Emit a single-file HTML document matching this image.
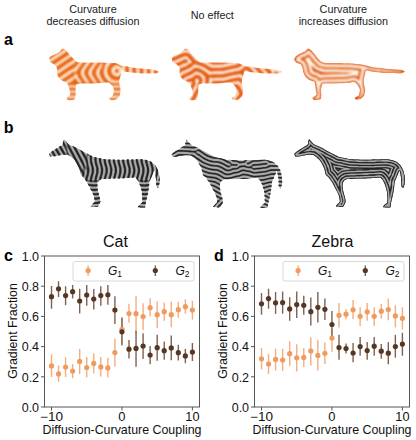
<!DOCTYPE html>
<html><head><meta charset="utf-8">
<style>
html,body{margin:0;padding:0;background:#fff;}
body{width:416px;height:440px;overflow:hidden;position:relative;font-family:"Liberation Sans",sans-serif;}
svg{position:absolute;left:0;top:0;}
.tk{font-size:12px;fill:#111;}
.lb{font-size:12.4px;fill:#111;}
.lg{font-size:12px;fill:#111;}
.ti{font-size:16px;fill:#111;}
.pl{font-size:16px;font-weight:bold;fill:#000;}
.hd{font-size:10.8px;fill:#1a1a1a;}
</style></head>
<body>
<svg width="416" height="440" viewBox="0 0 416 440">
<defs>
<filter id="blO" x="-5%" y="-5%" width="110%" height="110%"><feGaussianBlur stdDeviation="1.0"/></filter>
<filter id="blE" x="-5%" y="-5%" width="110%" height="110%"><feGaussianBlur stdDeviation="0.8"/></filter>
<clipPath id="c_cat1"><path d="M49.2,58.3C49.2,58.0 50.1,56.7 50.5,56.5C50.9,56.3 54.6,54.4 55.1,54.2C55.6,54.0 58.3,52.6 58.7,52.4C59.1,52.2 60.8,50.3 61.0,50.1C61.2,49.9 62.5,48.5 62.8,48.5C63.1,48.5 65.2,49.4 65.5,49.6C65.8,49.8 67.5,52.0 67.8,52.4C68.1,52.8 70.6,55.6 71.0,56.0C71.4,56.4 73.8,59.2 74.2,59.6C74.6,60.0 76.5,62.0 78.0,62.2C79.5,62.4 97.8,62.5 100.0,62.5C102.2,62.5 113.9,62.9 115.0,63.0C116.1,63.1 118.1,64.1 118.5,64.3C118.9,64.5 121.0,65.7 121.5,65.8C122.0,65.9 125.1,66.2 126.0,66.3C126.9,66.4 134.6,67.9 136.2,68.1C137.8,68.3 151.1,69.3 152.5,69.5C153.9,69.7 159.3,71.5 159.5,71.7C159.7,71.9 156.8,73.4 155.7,73.5C154.6,73.6 143.4,73.6 141.6,73.5C139.8,73.4 127.7,72.0 126.5,71.9C125.3,71.8 122.3,71.3 122.0,71.5C121.7,71.7 121.2,74.5 121.0,75.0C120.8,75.5 119.6,79.0 119.5,79.5C119.4,80.0 119.4,83.5 119.5,84.0C119.6,84.5 120.4,87.5 120.5,88.0C120.6,88.5 120.6,91.5 120.5,92.0C120.4,92.5 119.8,96.0 119.5,96.5C119.2,97.0 116.5,99.3 116.0,99.5C115.5,99.7 111.4,100.3 111.0,100.2C110.6,100.1 108.9,98.6 109.0,98.3C109.1,98.0 112.2,96.4 112.5,96.0C112.8,95.6 114.0,91.5 114.0,91.0C114.0,90.5 113.3,87.5 113.0,87.0C112.7,86.5 110.0,83.3 109.5,83.0C109.0,82.7 105.9,82.5 105.0,82.5C104.1,82.5 95.5,83.4 94.0,83.5C92.5,83.6 81.1,83.4 80.0,83.5C78.9,83.6 76.4,84.4 76.1,84.8C75.8,85.2 75.8,89.3 75.8,90.0C75.8,90.7 75.7,95.4 75.6,96.0C75.5,96.6 74.6,99.5 74.2,99.8C73.8,100.1 68.9,100.4 68.4,100.3C67.9,100.2 66.2,98.3 66.3,98.0C66.4,97.7 70.0,95.5 70.2,95.0C70.4,94.5 69.6,90.0 69.4,89.2C69.2,88.5 67.4,83.0 67.0,82.5C66.6,82.0 63.9,81.4 63.5,81.2C63.1,81.0 60.8,79.8 60.5,79.5C60.2,79.2 58.5,77.3 58.3,76.9C58.1,76.5 57.0,73.7 56.9,73.3C56.8,72.9 57.3,70.0 57.2,69.6C57.1,69.2 56.3,66.4 56.0,66.0C55.7,65.6 52.8,63.5 52.4,63.3C52.0,63.1 50.3,62.2 50.1,61.9C49.9,61.6 49.2,58.6 49.2,58.3Z"/></clipPath>
<clipPath id="c_cat2"><path d="M171.7,58.3C171.7,58.0 172.6,56.7 173.0,56.5C173.4,56.3 177.1,54.4 177.6,54.2C178.1,54.0 180.8,52.6 181.2,52.4C181.6,52.2 183.3,50.3 183.5,50.1C183.7,49.9 185.0,48.5 185.3,48.5C185.6,48.5 187.7,49.4 188.0,49.6C188.3,49.8 190.0,52.0 190.3,52.4C190.6,52.8 193.1,55.6 193.5,56.0C193.9,56.4 196.3,59.2 196.7,59.6C197.1,60.0 199.0,62.0 200.5,62.2C202.0,62.4 220.3,62.5 222.5,62.5C224.7,62.5 236.4,62.9 237.5,63.0C238.6,63.1 240.6,64.1 241.0,64.3C241.4,64.5 243.6,65.7 244.0,65.8C244.4,65.9 247.6,66.2 248.5,66.3C249.4,66.4 257.1,67.9 258.7,68.1C260.3,68.3 273.6,69.3 275.0,69.5C276.4,69.7 281.8,71.5 282.0,71.7C282.2,71.9 279.3,73.4 278.2,73.5C277.1,73.6 265.9,73.6 264.1,73.5C262.3,73.4 250.2,72.0 249.0,71.9C247.8,71.8 244.8,71.3 244.5,71.5C244.2,71.7 243.7,74.5 243.5,75.0C243.3,75.5 242.1,79.0 242.0,79.5C241.9,80.0 241.9,83.5 242.0,84.0C242.1,84.5 242.9,87.5 243.0,88.0C243.1,88.5 243.1,91.5 243.0,92.0C242.9,92.5 242.3,96.0 242.0,96.5C241.7,97.0 239.0,99.3 238.5,99.5C238.0,99.7 233.9,100.3 233.5,100.2C233.1,100.1 231.4,98.6 231.5,98.3C231.6,98.0 234.7,96.4 235.0,96.0C235.3,95.6 236.5,91.5 236.5,91.0C236.5,90.5 235.8,87.5 235.5,87.0C235.2,86.5 232.5,83.3 232.0,83.0C231.5,82.7 228.4,82.5 227.5,82.5C226.6,82.5 218.0,83.4 216.5,83.5C215.0,83.6 203.6,83.4 202.5,83.5C201.4,83.6 198.9,84.4 198.6,84.8C198.3,85.2 198.3,89.3 198.3,90.0C198.3,90.7 198.2,95.4 198.1,96.0C198.0,96.6 197.1,99.5 196.7,99.8C196.3,100.1 191.4,100.4 190.9,100.3C190.4,100.2 188.7,98.3 188.8,98.0C188.9,97.7 192.5,95.5 192.7,95.0C192.9,94.5 192.1,90.0 191.9,89.2C191.7,88.5 189.9,83.0 189.5,82.5C189.1,82.0 186.4,81.4 186.0,81.2C185.6,81.0 183.3,79.8 183.0,79.5C182.7,79.2 181.0,77.3 180.8,76.9C180.6,76.5 179.5,73.7 179.4,73.3C179.3,72.9 179.8,70.0 179.7,69.6C179.6,69.2 178.8,66.4 178.5,66.0C178.2,65.6 175.3,63.5 174.9,63.3C174.5,63.1 172.8,62.2 172.6,61.9C172.4,61.6 171.7,58.6 171.7,58.3Z"/></clipPath>
<clipPath id="c_cat3"><path d="M294.1,59.5C294.0,59.1 295.1,57.2 295.5,56.8C295.9,56.4 299.5,53.9 300.0,53.6C300.5,53.3 304.1,52.0 304.5,51.8C304.9,51.6 306.6,49.7 306.8,49.5C307.0,49.3 308.3,48.5 308.6,48.6C308.9,48.7 311.4,50.6 311.8,50.9C312.2,51.2 314.2,53.7 314.5,54.1C314.8,54.5 316.9,57.3 317.3,57.7C317.7,58.1 320.4,61.1 320.9,61.4C321.4,61.7 324.3,62.9 326.0,63.0C327.7,63.1 347.0,63.1 349.0,63.2C351.0,63.3 359.1,64.1 359.9,64.2C360.7,64.3 362.1,64.4 362.8,64.6C363.5,64.8 370.4,66.7 372.0,67.0C373.6,67.3 388.2,68.9 390.0,69.1C391.8,69.3 401.1,69.8 402.0,70.0C402.9,70.2 405.1,71.6 405.0,71.8C404.9,72.0 402.2,73.3 400.9,73.4C399.6,73.5 385.7,73.1 384.0,73.0C382.3,72.9 373.1,71.9 372.0,71.8C370.9,71.7 366.4,70.5 366.0,70.6C365.6,70.7 365.4,72.3 365.3,72.8C365.2,73.3 364.1,78.2 364.0,78.8C363.9,79.4 363.7,82.9 363.8,83.6C363.9,84.3 365.3,89.0 365.3,89.7C365.3,90.4 364.3,95.2 364.0,95.7C363.7,96.2 361.5,98.5 361.0,98.7C360.5,98.9 356.6,99.9 356.2,99.8C355.9,99.7 354.3,98.1 354.4,97.8C354.5,97.5 358.4,96.0 358.7,95.5C359.0,95.0 360.0,90.3 359.9,89.7C359.8,89.1 357.9,85.3 357.5,84.8C357.1,84.3 354.3,81.9 353.8,81.8C353.3,81.7 350.4,82.9 349.0,83.0C347.6,83.1 331.6,83.5 330.0,83.6C328.4,83.7 323.0,83.6 322.5,84.0C322.0,84.4 321.1,89.3 321.0,90.0C320.9,90.7 321.4,94.4 321.4,95.0C321.4,95.6 321.1,99.0 320.7,99.3C320.3,99.6 314.5,100.3 314.0,100.2C313.5,100.1 312.2,98.3 312.4,98.0C312.6,97.7 316.4,95.0 316.6,94.5C316.8,94.0 316.0,91.1 315.9,90.4C315.8,89.7 314.7,82.7 314.6,82.2C314.5,81.7 313.9,81.5 313.6,81.4C313.3,81.3 309.6,80.3 309.1,80.0C308.6,79.7 305.9,77.3 305.5,76.8C305.1,76.3 303.4,72.8 303.2,72.3C303.0,71.8 302.8,69.1 302.7,68.6C302.6,68.1 301.3,64.9 300.9,64.5C300.5,64.1 296.8,63.0 296.4,62.7C296.0,62.4 294.2,59.9 294.1,59.5Z"/></clipPath>
<clipPath id="c_zeb1"><path d="M49.2,154.0C49.3,153.7 51.1,152.0 51.8,151.5C52.5,151.0 59.8,146.5 60.4,146.1C61.0,145.7 62.4,144.8 62.6,144.5C62.8,144.2 63.2,140.8 63.3,140.5C63.4,140.2 63.7,139.1 63.9,139.2C64.1,139.3 65.8,141.3 66.0,141.5C66.2,141.7 67.4,143.0 67.6,143.2C67.8,143.4 68.6,144.2 69.1,144.5C69.6,144.8 75.3,147.3 76.4,147.8C77.5,148.3 85.9,153.1 86.9,153.6C87.9,154.1 92.1,156.4 93.2,156.7C94.3,157.0 104.4,159.1 106.0,159.3C107.6,159.5 117.9,159.8 120.0,159.8C122.1,159.8 139.6,159.3 141.2,159.3C142.8,159.3 146.6,160.0 147.2,160.2C147.8,160.4 151.1,161.6 151.6,161.9C152.1,162.2 154.6,164.5 155.0,164.9C155.4,165.3 157.3,168.6 157.6,169.2C157.9,169.8 159.2,174.5 159.3,175.3C159.4,176.1 159.8,181.4 159.7,182.2C159.6,182.9 158.6,187.5 158.4,187.8C158.2,188.1 156.5,187.1 156.3,186.5C156.2,185.9 156.0,178.7 155.9,177.9C155.8,177.1 155.1,173.1 155.0,172.7C154.9,172.3 154.3,170.2 154.1,170.5C153.9,170.8 151.9,176.4 151.6,177.0C151.3,177.6 149.8,180.7 149.6,181.3C149.4,181.9 149.1,186.2 149.0,186.8C148.9,187.4 148.5,190.2 148.4,190.9C148.3,191.6 146.9,198.3 146.7,199.1C146.5,199.9 145.7,203.4 145.6,203.9C145.5,204.4 145.4,207.2 145.0,207.4C144.6,207.6 138.5,207.3 138.1,207.2C137.7,207.1 138.6,205.5 138.8,205.2C139.0,204.9 142.0,203.0 142.2,202.5C142.4,202.0 142.2,197.7 142.2,197.0C142.2,196.3 141.7,191.0 141.5,190.2C141.3,189.4 139.7,184.7 139.5,184.1C139.3,183.5 137.8,180.4 137.5,180.0C137.2,179.6 135.6,177.6 135.2,177.5C134.8,177.4 131.2,177.8 130.0,177.9C128.8,178.0 116.7,178.4 115.0,178.5C113.3,178.6 103.0,179.0 102.0,179.1C101.0,179.2 99.3,180.3 99.0,180.6C98.7,180.9 97.5,183.1 97.4,183.7C97.3,184.3 97.7,189.2 97.8,189.9C97.9,190.6 99.2,195.3 99.4,196.0C99.6,196.7 100.6,200.8 100.5,201.5C100.4,202.2 98.4,206.6 97.8,206.9C97.2,207.2 91.3,206.6 90.9,206.5C90.5,206.4 91.1,205.6 91.3,205.3C91.5,205.0 94.6,202.1 94.7,201.5C94.8,200.9 93.9,196.0 93.6,195.3C93.3,194.6 90.9,189.8 90.5,189.1C90.1,188.4 87.8,183.7 87.4,183.0C87.0,182.3 83.9,178.0 83.5,177.5C83.1,177.0 80.9,175.1 80.6,174.5C80.3,173.9 79.3,168.9 79.0,168.2C78.7,167.5 76.7,163.5 76.4,163.0C76.1,162.5 75.1,160.9 74.8,160.5C74.5,160.1 71.6,157.2 71.2,156.9C70.8,156.6 68.1,154.8 67.6,154.7C67.1,154.6 63.4,154.6 62.6,154.7C61.8,154.8 55.4,156.2 54.7,156.3C54.0,156.4 50.6,156.6 50.3,156.5C50.0,156.4 49.1,154.3 49.2,154.0Z"/></clipPath>
<clipPath id="c_zeb2"><path d="M171.7,154.5C171.8,154.2 173.6,152.5 174.3,152.0C175.0,151.5 182.3,147.0 182.9,146.6C183.5,146.2 184.9,145.3 185.1,145.0C185.3,144.7 185.7,141.3 185.8,141.0C185.9,140.7 186.2,139.6 186.4,139.7C186.6,139.8 188.3,141.8 188.5,142.0C188.7,142.2 189.9,143.5 190.1,143.7C190.3,143.9 191.1,144.7 191.6,145.0C192.1,145.3 197.8,147.8 198.9,148.3C200.0,148.8 208.4,153.6 209.4,154.1C210.4,154.6 214.6,156.9 215.7,157.2C216.8,157.5 226.9,159.6 228.5,159.8C230.1,160.0 240.4,160.3 242.5,160.3C244.6,160.3 262.1,159.8 263.7,159.8C265.3,159.8 269.1,160.5 269.7,160.7C270.3,160.9 273.6,162.1 274.1,162.4C274.6,162.7 277.1,165.0 277.5,165.4C277.9,165.8 279.8,169.1 280.1,169.7C280.4,170.3 281.7,175.0 281.8,175.8C281.9,176.6 282.3,181.9 282.2,182.7C282.1,183.4 281.1,188.0 280.9,188.3C280.7,188.6 278.9,187.6 278.8,187.0C278.7,186.4 278.5,179.2 278.4,178.4C278.3,177.6 277.6,173.6 277.5,173.2C277.4,172.8 276.8,170.7 276.6,171.0C276.4,171.3 274.4,176.9 274.1,177.5C273.8,178.1 272.3,181.2 272.1,181.8C271.9,182.4 271.6,186.7 271.5,187.3C271.4,187.9 271.0,190.7 270.9,191.4C270.8,192.1 269.4,198.8 269.2,199.6C269.0,200.4 268.2,203.9 268.1,204.4C268.0,204.9 267.9,207.7 267.5,207.9C267.1,208.1 261.0,207.8 260.6,207.7C260.2,207.6 261.1,206.0 261.3,205.7C261.5,205.4 264.5,203.5 264.7,203.0C264.9,202.5 264.7,198.2 264.7,197.5C264.7,196.8 264.2,191.5 264.0,190.7C263.8,189.9 262.2,185.2 262.0,184.6C261.8,184.0 260.3,180.9 260.0,180.5C259.7,180.1 258.1,178.1 257.7,178.0C257.2,177.9 253.7,178.3 252.5,178.4C251.3,178.5 239.2,178.9 237.5,179.0C235.8,179.1 225.5,179.5 224.5,179.6C223.5,179.7 221.8,180.8 221.5,181.1C221.2,181.4 220.0,183.6 219.9,184.2C219.8,184.8 220.2,189.7 220.3,190.4C220.4,191.1 221.7,195.8 221.9,196.5C222.1,197.2 223.1,201.3 223.0,202.0C222.9,202.7 220.9,207.1 220.3,207.4C219.7,207.7 213.8,207.1 213.4,207.0C213.0,206.9 213.6,206.1 213.8,205.8C214.0,205.5 217.1,202.6 217.2,202.0C217.3,201.4 216.4,196.5 216.1,195.8C215.8,195.1 213.4,190.3 213.0,189.6C212.6,188.9 210.3,184.2 209.9,183.5C209.5,182.8 206.4,178.5 206.0,178.0C205.6,177.5 203.4,175.6 203.1,175.0C202.8,174.4 201.8,169.4 201.5,168.7C201.2,168.0 199.2,164.0 198.9,163.5C198.6,163.0 197.6,161.4 197.3,161.0C197.0,160.6 194.1,157.7 193.7,157.4C193.3,157.1 190.6,155.3 190.1,155.2C189.6,155.1 185.9,155.1 185.1,155.2C184.3,155.3 177.9,156.7 177.2,156.8C176.5,156.9 173.1,157.1 172.8,157.0C172.5,156.9 171.6,154.8 171.7,154.5Z"/></clipPath>
<clipPath id="c_zeb3"><path d="M294.4,154.0C294.5,153.7 296.3,152.0 297.0,151.5C297.7,151.0 305.0,146.5 305.6,146.1C306.2,145.7 307.6,144.8 307.8,144.5C308.0,144.2 308.4,140.8 308.5,140.5C308.6,140.2 308.9,139.1 309.1,139.2C309.3,139.3 311.0,141.3 311.2,141.5C311.4,141.7 312.6,143.0 312.8,143.2C313.0,143.4 313.8,144.2 314.3,144.5C314.8,144.8 320.5,147.3 321.6,147.8C322.7,148.3 331.1,153.1 332.1,153.6C333.1,154.1 337.3,156.4 338.4,156.7C339.5,157.0 349.6,159.1 351.2,159.3C352.8,159.5 363.1,159.8 365.2,159.8C367.3,159.8 384.8,159.3 386.4,159.3C388.0,159.3 391.8,160.0 392.4,160.2C393.0,160.4 396.3,161.6 396.8,161.9C397.3,162.2 399.8,164.5 400.2,164.9C400.6,165.3 402.5,168.6 402.8,169.2C403.1,169.8 404.4,174.5 404.5,175.3C404.6,176.1 405.0,181.4 404.9,182.2C404.8,182.9 403.8,187.5 403.6,187.8C403.4,188.1 401.6,187.1 401.5,186.5C401.4,185.9 401.2,178.7 401.1,177.9C401.0,177.1 400.3,173.1 400.2,172.7C400.1,172.3 399.5,170.2 399.3,170.5C399.1,170.8 397.1,176.4 396.8,177.0C396.5,177.6 395.0,180.7 394.8,181.3C394.6,181.9 394.3,186.2 394.2,186.8C394.1,187.4 393.7,190.2 393.6,190.9C393.5,191.6 392.1,198.3 391.9,199.1C391.7,199.9 390.9,203.4 390.8,203.9C390.7,204.4 390.6,207.2 390.2,207.4C389.8,207.6 383.7,207.3 383.3,207.2C382.9,207.1 383.8,205.5 384.0,205.2C384.2,204.9 387.2,203.0 387.4,202.5C387.6,202.0 387.4,197.7 387.4,197.0C387.4,196.3 386.9,191.0 386.7,190.2C386.5,189.4 384.9,184.7 384.7,184.1C384.5,183.5 383.0,180.4 382.7,180.0C382.4,179.6 380.8,177.6 380.4,177.5C379.9,177.4 376.4,177.8 375.2,177.9C374.0,178.0 361.9,178.4 360.2,178.5C358.5,178.6 348.2,179.0 347.2,179.1C346.2,179.2 344.5,180.3 344.2,180.6C343.9,180.9 342.7,183.1 342.6,183.7C342.5,184.3 342.9,189.2 343.0,189.9C343.1,190.6 344.4,195.3 344.6,196.0C344.8,196.7 345.8,200.8 345.7,201.5C345.6,202.2 343.6,206.6 343.0,206.9C342.4,207.2 336.5,206.6 336.1,206.5C335.7,206.4 336.3,205.6 336.5,205.3C336.7,205.0 339.8,202.1 339.9,201.5C340.0,200.9 339.1,196.0 338.8,195.3C338.5,194.6 336.1,189.8 335.7,189.1C335.3,188.4 333.0,183.7 332.6,183.0C332.2,182.3 329.1,178.0 328.7,177.5C328.3,177.0 326.1,175.1 325.8,174.5C325.5,173.9 324.5,168.9 324.2,168.2C323.9,167.5 321.9,163.5 321.6,163.0C321.3,162.5 320.3,160.9 320.0,160.5C319.7,160.1 316.8,157.2 316.4,156.9C316.0,156.6 313.3,154.8 312.8,154.7C312.3,154.6 308.6,154.6 307.8,154.7C307.0,154.8 300.6,156.2 299.9,156.3C299.2,156.4 295.8,156.6 295.5,156.5C295.2,156.4 294.3,154.3 294.4,154.0Z"/></clipPath>
</defs>
<g clip-path="url(#c_cat1)"><path d="M49.2,58.3C49.2,58.0 50.1,56.7 50.5,56.5C50.9,56.3 54.6,54.4 55.1,54.2C55.6,54.0 58.3,52.6 58.7,52.4C59.1,52.2 60.8,50.3 61.0,50.1C61.2,49.9 62.5,48.5 62.8,48.5C63.1,48.5 65.2,49.4 65.5,49.6C65.8,49.8 67.5,52.0 67.8,52.4C68.1,52.8 70.6,55.6 71.0,56.0C71.4,56.4 73.8,59.2 74.2,59.6C74.6,60.0 76.5,62.0 78.0,62.2C79.5,62.4 97.8,62.5 100.0,62.5C102.2,62.5 113.9,62.9 115.0,63.0C116.1,63.1 118.1,64.1 118.5,64.3C118.9,64.5 121.0,65.7 121.5,65.8C122.0,65.9 125.1,66.2 126.0,66.3C126.9,66.4 134.6,67.9 136.2,68.1C137.8,68.3 151.1,69.3 152.5,69.5C153.9,69.7 159.3,71.5 159.5,71.7C159.7,71.9 156.8,73.4 155.7,73.5C154.6,73.6 143.4,73.6 141.6,73.5C139.8,73.4 127.7,72.0 126.5,71.9C125.3,71.8 122.3,71.3 122.0,71.5C121.7,71.7 121.2,74.5 121.0,75.0C120.8,75.5 119.6,79.0 119.5,79.5C119.4,80.0 119.4,83.5 119.5,84.0C119.6,84.5 120.4,87.5 120.5,88.0C120.6,88.5 120.6,91.5 120.5,92.0C120.4,92.5 119.8,96.0 119.5,96.5C119.2,97.0 116.5,99.3 116.0,99.5C115.5,99.7 111.4,100.3 111.0,100.2C110.6,100.1 108.9,98.6 109.0,98.3C109.1,98.0 112.2,96.4 112.5,96.0C112.8,95.6 114.0,91.5 114.0,91.0C114.0,90.5 113.3,87.5 113.0,87.0C112.7,86.5 110.0,83.3 109.5,83.0C109.0,82.7 105.9,82.5 105.0,82.5C104.1,82.5 95.5,83.4 94.0,83.5C92.5,83.6 81.1,83.4 80.0,83.5C78.9,83.6 76.4,84.4 76.1,84.8C75.8,85.2 75.8,89.3 75.8,90.0C75.8,90.7 75.7,95.4 75.6,96.0C75.5,96.6 74.6,99.5 74.2,99.8C73.8,100.1 68.9,100.4 68.4,100.3C67.9,100.2 66.2,98.3 66.3,98.0C66.4,97.7 70.0,95.5 70.2,95.0C70.4,94.5 69.6,90.0 69.4,89.2C69.2,88.5 67.4,83.0 67.0,82.5C66.6,82.0 63.9,81.4 63.5,81.2C63.1,81.0 60.8,79.8 60.5,79.5C60.2,79.2 58.5,77.3 58.3,76.9C58.1,76.5 57.0,73.7 56.9,73.3C56.8,72.9 57.3,70.0 57.2,69.6C57.1,69.2 56.3,66.4 56.0,66.0C55.7,65.6 52.8,63.5 52.4,63.3C52.0,63.1 50.3,62.2 50.1,61.9C49.9,61.6 49.2,58.6 49.2,58.3Z" fill="#fee8d2"/><g filter="url(#blO)"><path fill="#e8600f" fill-rule="evenodd" d="M108.0 99.5l1.2 1.3l7 0l1.3 -0.6l1.5 -1.4l1 -0.6l-12 0zM65.2 99.2l1.3 1.6l8.7 0l1 -2.6l-11 0zM110.8 95.5l10.2 0l0.5 -2.5l-9.5 0l-0.2 1.8zM67.2 95.5l9.6 0l0 -2.5l-7.8 0l0 1.2zM111.8 87.8l1 2.7l8.7 0l0 -2.7zM67.8 87.8l0.7 2.7l8.3 0l0 -2.5l0.2 -0.2zM154.0 68.8l0 5.2l-0.2 0.5l3.7 0l0.3 -0.3l0 -4.7zM116.8 68.8l-1.6 0.7l-0.4 1.5l0.7 1.5l1.5 0.5l1.5 -0.8l0.5 -1.4l-0.8 -1.6zM146.8 67.8l0 6.4l-0.3 0.3l3.7 0l0.3 -0.3l0 -6l-3.5 -0.2zM139.5 67.2l0 7l-0.3 0.3l3.8 0l0.5 -0.7l0 -6.3zM132.2 66.2l0 7.6l4 0.2l0 -7zM125.2 65.0l0 7.8l0.3 0.2l3.5 0.2l0 -7.7zM113.0 62.0l-1.5 0.8l-1.7 1.4l-2 3.3l-0.6 2l0 2.7l0.6 2l2 3.3l1.7 1.5l2 1l2 0.5l2.7 0l2 -0.5l0.8 -0.8l1.2 -4l-0.2 -2l-0.2 -0.2l-0.8 1.5l-1.2 1.3l-2 0.7l-1.8 0l-2 -0.7l-2 -2l-0.8 -2l0 -1.8l0.8 -2l2 -2l2 -0.8l1.8 0l2 0.8l1 1l1 1.8l0.4 -0.8l0 -3.2l-0.4 -0.6l-5 -2.2zM60.0 80.8l2.5 1.4l1.7 0.6l0 -0.6l0.6 -0.4l2 -1l4.2 -3l2.5 -1l1.5 -3l0.8 -0.6l1 0.8l1.7 3.8l3.5 4.7l-0.5 0.5l-2.3 0l-1.4 -1.2l-1 -2.3l-1 -1l-1.3 -0.3l-0.7 0.6l-0.6 1.2l-1 1l-2.2 1.5l-1.8 0.5l-3.4 0l0.7 0l1 1.5l0 0.7l12 0l0.7 -0.4l1.3 -0.3l16 0l0.3 -0.3l3 0l0.2 -0.2l4.5 -0.2l0.3 -0.3l3.2 0.3l1.8 1.4l11.2 0l-0.5 -2.2l-7.7 0l-0.3 -0.2l-1.3 0l-1.7 -0.8l-3.3 -3.2l-1 -1.6l-1.4 -3.4l0 -3.6l1.4 -5.2l1.3 -2.2l1 -1l-2 0l-0.3 -0.3l-6.7 0l-3.7 5l-2.8 4.7l-0.2 1l0.2 2.3l2.8 4.7l2.4 3l-0.4 0.8l-2.3 0l-1.7 -1.5l-0.3 -0.7l-3.3 -4.6l-1 -2.4l0 -1.8l1 -2.5l5.8 -8l-4 0l-5.5 7.5l-1.3 2.8l0.3 3l3 5l2 2.2l-0.3 1l-2.2 0l-1.5 -1l-3.3 -4.8l-1.4 -3.2l0 -2.2l0.4 -1.6l2.6 -4l3.7 -5l-4 0l-7.5 10.6l-0.5 0.2l-2 -0.2l-1.5 0.7l-1 1zM102.2 62.5l0.6 0.5l0 0.8l-0.8 2.4l-1.2 2.3l-1.3 3.3l0 2.2l1.7 3.8l2 3.2l1 1l0 0.5l-0.4 0.5l-2 0l-1.3 -1l-4.3 -7l-0.4 -2l0.2 -1.5l1 -2.3l3 -4.4zM80.0 61.2l-1 0l-2 -1l-3.2 3.6l-3.3 1.7l-14.5 9.7l1.2 2.8l0.6 0.5l11.7 -8l5 -2.5l2.5 -2.5zM75.0 58.2l-2.5 -2.2l-17 11.2l-0.3 0.8l0.8 1.8l0 1.7l14 -9.5l2 -1l2.2 -1.8zM70.8 53.5l-2.8 -2.7l-18.5 12.2l0 0.2l1.3 0.6l1.7 1.4l0.5 0zM66.0 48.2l-2 -0.7l-2.2 0l-4 4l-8 3.7l-1.6 1.8l0 3.2z"/></g></g>
<g clip-path="url(#c_cat2)"><path d="M171.7,58.3C171.7,58.0 172.6,56.7 173.0,56.5C173.4,56.3 177.1,54.4 177.6,54.2C178.1,54.0 180.8,52.6 181.2,52.4C181.6,52.2 183.3,50.3 183.5,50.1C183.7,49.9 185.0,48.5 185.3,48.5C185.6,48.5 187.7,49.4 188.0,49.6C188.3,49.8 190.0,52.0 190.3,52.4C190.6,52.8 193.1,55.6 193.5,56.0C193.9,56.4 196.3,59.2 196.7,59.6C197.1,60.0 199.0,62.0 200.5,62.2C202.0,62.4 220.3,62.5 222.5,62.5C224.7,62.5 236.4,62.9 237.5,63.0C238.6,63.1 240.6,64.1 241.0,64.3C241.4,64.5 243.6,65.7 244.0,65.8C244.4,65.9 247.6,66.2 248.5,66.3C249.4,66.4 257.1,67.9 258.7,68.1C260.3,68.3 273.6,69.3 275.0,69.5C276.4,69.7 281.8,71.5 282.0,71.7C282.2,71.9 279.3,73.4 278.2,73.5C277.1,73.6 265.9,73.6 264.1,73.5C262.3,73.4 250.2,72.0 249.0,71.9C247.8,71.8 244.8,71.3 244.5,71.5C244.2,71.7 243.7,74.5 243.5,75.0C243.3,75.5 242.1,79.0 242.0,79.5C241.9,80.0 241.9,83.5 242.0,84.0C242.1,84.5 242.9,87.5 243.0,88.0C243.1,88.5 243.1,91.5 243.0,92.0C242.9,92.5 242.3,96.0 242.0,96.5C241.7,97.0 239.0,99.3 238.5,99.5C238.0,99.7 233.9,100.3 233.5,100.2C233.1,100.1 231.4,98.6 231.5,98.3C231.6,98.0 234.7,96.4 235.0,96.0C235.3,95.6 236.5,91.5 236.5,91.0C236.5,90.5 235.8,87.5 235.5,87.0C235.2,86.5 232.5,83.3 232.0,83.0C231.5,82.7 228.4,82.5 227.5,82.5C226.6,82.5 218.0,83.4 216.5,83.5C215.0,83.6 203.6,83.4 202.5,83.5C201.4,83.6 198.9,84.4 198.6,84.8C198.3,85.2 198.3,89.3 198.3,90.0C198.3,90.7 198.2,95.4 198.1,96.0C198.0,96.6 197.1,99.5 196.7,99.8C196.3,100.1 191.4,100.4 190.9,100.3C190.4,100.2 188.7,98.3 188.8,98.0C188.9,97.7 192.5,95.5 192.7,95.0C192.9,94.5 192.1,90.0 191.9,89.2C191.7,88.5 189.9,83.0 189.5,82.5C189.1,82.0 186.4,81.4 186.0,81.2C185.6,81.0 183.3,79.8 183.0,79.5C182.7,79.2 181.0,77.3 180.8,76.9C180.6,76.5 179.5,73.7 179.4,73.3C179.3,72.9 179.8,70.0 179.7,69.6C179.6,69.2 178.8,66.4 178.5,66.0C178.2,65.6 175.3,63.5 174.9,63.3C174.5,63.1 172.8,62.2 172.6,61.9C172.4,61.6 171.7,58.6 171.7,58.3Z" fill="#fff0e2"/><g filter="url(#blO)"><path fill="#e4560c" fill-rule="evenodd" d="M199.0 97.0l-0.5 1.2l0 1l0.5 -1.2zM190.0 95.2l-2.2 1.8l1.7 -1zM235.2 91.2l-1 2.6l0 1l-0.7 0.7l-3 1.7l0 2.3l1.3 1.3l0.7 -1l0.5 -2.6l0.5 -1l2.3 -2.4l0.2 -1.6zM237.5 84.2l-3 0l-2.5 0.8l1.8 1.8l0.4 1l2 0.2l1 1l2 4.5l-0.4 1.3l-2.3 2.2l-1.7 4.2l4 -0.4l0.4 -0.6l0.8 -2l1 -1.2l2.5 -0.8l0 -1.2l0.5 -1.8l-1.5 -1.2l-0.7 -2.2l-2.3 -4zM244.0 88.5l0 -1.7l-1 -3.3l0 -3.7l-1 -1.3l-2 -1l-3.2 0l-3 0.7l-1.3 0l-1 0.6l-1 0l-1 0.4l-6 1.6l-6.5 0l-0.2 0.2l-3.8 -0.2l-1.2 1l-0.6 1.7l0 1l11 -0.3l2 -0.4l2.3 0l5.3 -1.8l6 -1l1.7 0.5l1.7 1.7l2 3zM198.0 74.8l-1.8 0l-1.4 0.4l-2.8 2.6l-4.8 1.4l-2.2 2.6l0 0.4l1.5 0.3l1.7 0.7l2 -1.7l1.3 0l0.5 0.5l0.2 1.5l-1.2 2l-1.2 1.3l1.2 3.4l0.2 1.8l4.6 -7.8l0 -1.2l-0.8 -1.5l0 -1.7l1.2 -1.3l1.3 0l1.3 1l0.2 0.7l-0.2 1.8l-0.8 1.8l-0.5 3.7l-4.3 6.7l-1 2.6l-0.2 1.4l-1.5 1.3l-2.5 0l1.8 1.7l5.4 0l-0.2 -0.7l0.2 -1.7l1.3 -2l1 -2.8l1.7 -2.5l0.3 -5.5l2.3 -1.2l0.2 -2l0.5 -1.3l0 -2.7l-1.5 -2.3zM273.8 72.2l0 1.3l0.4 1l4.8 0l-0.5 -1.5l-2 -1.5l-1.7 0zM272.8 68.2l1.4 0.8l3.3 0l3.5 2.2l1.2 1.3l0 0.7l0.8 -0.4l0 -2l-0.8 -0.6l-6 -1.7zM262.2 67.2l5 5l0.8 2.3l3.5 0l0.5 -1l0 -1.7l-4 -4zM255.5 73.8l-5.3 -6l-2.7 -1.6l-1.5 0l-1.5 0.6l-3 2.7l-2.5 1.3l-4 0.4l-1.2 0.6l-3.6 0.4l-1 0.6l-1 0l-3.2 1l-1.2 0l-1.8 0.4l-8.8 0l-1 -0.2l-2 0.8l-1.2 0l-3.5 -3l-4.3 -2.6l-3.7 -1.4l-2.5 0l-1.2 0.4l-2.8 2.6l-8.2 3.7l-2 1.7l-1 1.8l2.4 2.8l0.8 -1.6l2.5 -2.2l3.5 -1.2l3.5 -1.8l3 -2.2l1.7 -0.3l4.8 2.3l3.2 3.2l0.3 3l-0.3 0.2l0 2.6l-0.4 1.7l3.4 0l1 -2.5l-0.2 -3.8l0.8 -0.7l1 0l1.4 0.7l2 0l1.6 -0.4l6.7 0l0.3 -0.3l1.7 0l1.3 -0.5l1 0l1 -0.5l6.2 -1.5l1.8 0l3.2 -0.8l2 0l1 0.6l2.2 2.2l0.8 -3.8l-1 -1l0 -1l0.8 -0.7l1.2 -0.5l1.8 0.5l2.4 2.7zM252.2 65.8l7.8 8.4l4.8 0.3l-1 -1.7l-5.8 -6l-4.2 -0.6zM205.8 61.2l5 2.8l2.7 0.8l9.5 -0.3l1.2 -0.5l1.3 0l1.3 -0.5l1.2 0l1.2 -0.5l3.3 -0.5l2.3 -0.7zM188.0 60.8l-0.5 -1l-1 -0.6l-2 0l-4.7 2.6l-3 1l-2.6 1.7l2.6 2l0.7 0.3l6.3 -3.3l3 -0.5l0.7 -0.8zM170.8 58.8l0 1.4l0.7 2.6l0 -0.6l1.5 -1.2l2.5 -0.5l3.5 -2l1.8 -0.5l3 -1.5l2.2 -0.5l2 1l1.2 2l2.6 2.2l0 1.3l-0.8 0.7l-2.8 1l-1.4 1.6l-1.6 0.7l-2 0.5l-5 2.5l0.3 0.3l0 4.7l1.3 -1.5l2.2 -1.5l4 -1.5l1.5 -1l3.5 -1.5l1.5 -1.3l1.3 -1.7l1 -0.3l1.7 0.3l0.7 0.5l3.8 1l4 2l4.2 3l1.6 0.5l2 0l0.2 -0.3l10.5 -0.2l10.5 -2.5l3.5 -0.5l2.3 -1l4 -3l-1.6 -0.5l-1 -0.7l-1.4 -0.3l-1.8 1.3l-2.5 1l-11.3 2.4l-1.4 0l-1.8 0.6l-8.8 0l-2.7 -1l-3 -2l-3 -1.6l-7.3 -2.4l-2 -1.8l-0.7 -1.2l-3.7 -4l-2.8 -1.3l-2.8 0.3l-3.2 1l-5 2.4l-2.8 0.8zM181.0 50.8l2.5 -0.8l4 -0.5l2 0.5l1 0.5l0.3 0.5l-1.8 -2.5l-2.5 -1l-2.3 0z"/></g></g>
<g clip-path="url(#c_cat3)"><path d="M294.1,59.5C294.0,59.1 295.1,57.2 295.5,56.8C295.9,56.4 299.5,53.9 300.0,53.6C300.5,53.3 304.1,52.0 304.5,51.8C304.9,51.6 306.6,49.7 306.8,49.5C307.0,49.3 308.3,48.5 308.6,48.6C308.9,48.7 311.4,50.6 311.8,50.9C312.2,51.2 314.2,53.7 314.5,54.1C314.8,54.5 316.9,57.3 317.3,57.7C317.7,58.1 320.4,61.1 320.9,61.4C321.4,61.7 324.3,62.9 326.0,63.0C327.7,63.1 347.0,63.1 349.0,63.2C351.0,63.3 359.1,64.1 359.9,64.2C360.7,64.3 362.1,64.4 362.8,64.6C363.5,64.8 370.4,66.7 372.0,67.0C373.6,67.3 388.2,68.9 390.0,69.1C391.8,69.3 401.1,69.8 402.0,70.0C402.9,70.2 405.1,71.6 405.0,71.8C404.9,72.0 402.2,73.3 400.9,73.4C399.6,73.5 385.7,73.1 384.0,73.0C382.3,72.9 373.1,71.9 372.0,71.8C370.9,71.7 366.4,70.5 366.0,70.6C365.6,70.7 365.4,72.3 365.3,72.8C365.2,73.3 364.1,78.2 364.0,78.8C363.9,79.4 363.7,82.9 363.8,83.6C363.9,84.3 365.3,89.0 365.3,89.7C365.3,90.4 364.3,95.2 364.0,95.7C363.7,96.2 361.5,98.5 361.0,98.7C360.5,98.9 356.6,99.9 356.2,99.8C355.9,99.7 354.3,98.1 354.4,97.8C354.5,97.5 358.4,96.0 358.7,95.5C359.0,95.0 360.0,90.3 359.9,89.7C359.8,89.1 357.9,85.3 357.5,84.8C357.1,84.3 354.3,81.9 353.8,81.8C353.3,81.7 350.4,82.9 349.0,83.0C347.6,83.1 331.6,83.5 330.0,83.6C328.4,83.7 323.0,83.6 322.5,84.0C322.0,84.4 321.1,89.3 321.0,90.0C320.9,90.7 321.4,94.4 321.4,95.0C321.4,95.6 321.1,99.0 320.7,99.3C320.3,99.6 314.5,100.3 314.0,100.2C313.5,100.1 312.2,98.3 312.4,98.0C312.6,97.7 316.4,95.0 316.6,94.5C316.8,94.0 316.0,91.1 315.9,90.4C315.8,89.7 314.7,82.7 314.6,82.2C314.5,81.7 313.9,81.5 313.6,81.4C313.3,81.3 309.6,80.3 309.1,80.0C308.6,79.7 305.9,77.3 305.5,76.8C305.1,76.3 303.4,72.8 303.2,72.3C303.0,71.8 302.8,69.1 302.7,68.6C302.6,68.1 301.3,64.9 300.9,64.5C300.5,64.1 296.8,63.0 296.4,62.7C296.0,62.4 294.2,59.9 294.1,59.5Z" fill="#fff6ee"/><g filter="url(#blO)"><path fill="#de5208" fill-rule="evenodd" d="M311.2 65.0l0.8 4l1.2 2.2l1.8 1l3 0.8l2.8 2l2.4 -0.5l5.3 0l0.3 -0.3l18 -0.2l5.7 -1.2l-0.7 -0.3l-12.3 0l-0.3 -0.3l-14.4 0l-0.3 -0.2l-2.7 -0.2l-3 -1l-0.6 -0.6l-2.4 -1zM299.5 59.2l3.3 1.3l2 2l2 4.7l0.4 4l1.6 2.8l2.4 2.2l5.3 1.8l2 2l0.3 1.8l1.2 -1.3l1 -0.5l2.5 -0.5l23.3 -0.5l0.2 -0.2l1.8 0l1.4 -0.8l1.6 0l1.7 -0.5l2.7 0.7l3.3 2.6l0.3 -3l0.7 -2.6l0.3 -2.4l1.2 -4l-3 -0.3l-1.8 -0.5l-3.4 0l-2 -0.5l-26.8 -0.3l-4.2 -1l-2.6 -1.2l-4.7 -5l-1.3 -2l-2.2 -2.2l-1.2 -1.8l-2.8 2l-4 1.2zM304.2 59.0l3 -1.2l1.3 -1l1 1l2.3 3.4l4.7 5l1.5 1l0.8 0l1.2 0.8l1.8 0.2l1.7 0.8l1.3 0.2l7 0l1 -0.2l0.2 0.2l5.8 0l0.2 0.3l3.2 0l0.3 -0.3l1.3 0.3l8.4 0l2 0.5l4 0.2l1 0.6l-0.7 3l-0.3 2.4l-0.4 0.6l-1 -0.8l-3.6 -0.5l-2.2 0.7l-1.5 0l-1 0.6l-2 0l-0.3 0.2l-23.2 0.5l-3.2 1l-2.8 -2.7l-3.8 -1.3l-1 0l-1.7 -1.5l-1.5 -3.2l0 -1.6l-1 -3.7l-2.2 -4.3zM293.0 58.5l0 2l1.2 2l1.3 1.3l3.3 1l1.2 0.7l0 0.5l0.8 1l1 2.5l0.4 4.3l0.8 1l1 2.4l4 3.8l5 1.5l0.5 0.5l1.7 10.8l-0.4 0.7l-3.3 2.3l0 2.7l1.5 1.7l3.8 0l5 -1l0.7 -4l0 -2.7l-0.3 -0.3l-0.2 -3l0.8 -3.7l0.7 -1.5l1 -0.2l5.3 0l0.2 -0.3l17.8 -0.3l0.2 -0.2l2.8 0l2.4 -1l3.6 3l2 4.2l-1 4.3l-0.6 0.5l-0.4 0l-3.3 1.8l0 2.4l1.5 1.6l3.2 0l1 -0.6l1.6 0l1.7 -0.7l2.5 -2.7l1.2 -4.8l0 -4l-1.2 -3.8l-0.2 -2.2l0.2 -0.2l0 -2.6l0.8 -2.2l0 -1.8l0.4 -1l0.3 -1.7l0.5 -0.5l1.2 0l3.3 1l2.3 0l2.2 0.5l3.5 0l2 0.5l14.3 0.2l0.2 0.3l6.2 0l2.6 -0.7l1.2 -1l0 -2l-2.5 -1.8l-5 -0.2l-0.3 -0.3l-3.7 0l-0.3 -0.3l-7.7 -0.4l-0.3 -0.3l-1.7 0l-4 -0.7l-5 -0.3l-6.3 -1.3l-2.4 -1l-4.3 -1l-2.5 0l-1.8 -0.4l-3 0l-2 -0.6l-27.2 -0.2l-4.5 -1.8l-3.7 -4l-1 -1.7l-3.8 -4.5l-3.5 -2.5l-2 0l-1.7 1l-2.8 2.7l-4 1.3l-1.8 1.5l-2.4 1.5l-0.8 0.7l0 0.6zM356.5 98.2l0.3 -0.2l0.2 0.2l-0.2 0.3zM357.0 98.0l0.2 -0.2l0.6 0.2l-0.3 0.2zM295.8 59.0l1 -1.5l2.4 -1.5l1 -1l4.8 -1.8l3.5 -3.2l3.7 3.5l2.6 3l1 1.7l3.7 4l5 2l27.3 0.3l2 0.5l3 0l1.7 0.5l4 0.3l5.3 1.7l6.2 1.3l5 0.2l4 0.8l9.8 0.7l0.2 0.3l7 0.2l2.2 0.5l-0.4 0.5l-1 0.2l-17.8 -0.4l-2 -0.6l-3.5 0l-2.3 -0.4l-2.2 0l-3.2 -1l-1.8 0l-1.5 -0.6l-1.5 0.3l-0.5 0.7l-0.5 2.6l-0.5 1l0 1.7l-0.7 2.3l0 2.4l-0.3 0.3l0 3.7l1 4.3l0.5 1l0 1l-1 3.3l0 1l-2.5 2.7l-1.3 0.5l-1.4 0l-0.3 -0.2l1.7 -0.8l0.8 -1l1 -3.5l0.2 -3.3l-2.4 -5.2l-3.6 -3l-1 -0.5l-2.4 0.3l-2.6 1l-2.7 0l-0.3 0.2l-17.7 0.2l-0.3 0.3l-5.2 0l-1 0.3l-0.8 0.4l-0.4 1l-0.8 2.8l0 1.5l-0.2 0.3l0.2 8.2l-0.2 1l-1.3 0.5l-3.7 0.5l-0.8 -0.8l2.8 -1.7l1.2 -1.7l-2.2 -13.3l-1.3 -1.3l-3.7 -1.2l-0.8 0l-3.8 -3.5l-1.2 -2.7l-0.5 -0.6l-0.5 -4.2l-2 -4.5l-1.8 -1l-3 -1l-1.4 -1.7z"/></g></g>
<g clip-path="url(#c_zeb1)"><path d="M49.2,154.0C49.3,153.7 51.1,152.0 51.8,151.5C52.5,151.0 59.8,146.5 60.4,146.1C61.0,145.7 62.4,144.8 62.6,144.5C62.8,144.2 63.2,140.8 63.3,140.5C63.4,140.2 63.7,139.1 63.9,139.2C64.1,139.3 65.8,141.3 66.0,141.5C66.2,141.7 67.4,143.0 67.6,143.2C67.8,143.4 68.6,144.2 69.1,144.5C69.6,144.8 75.3,147.3 76.4,147.8C77.5,148.3 85.9,153.1 86.9,153.6C87.9,154.1 92.1,156.4 93.2,156.7C94.3,157.0 104.4,159.1 106.0,159.3C107.6,159.5 117.9,159.8 120.0,159.8C122.1,159.8 139.6,159.3 141.2,159.3C142.8,159.3 146.6,160.0 147.2,160.2C147.8,160.4 151.1,161.6 151.6,161.9C152.1,162.2 154.6,164.5 155.0,164.9C155.4,165.3 157.3,168.6 157.6,169.2C157.9,169.8 159.2,174.5 159.3,175.3C159.4,176.1 159.8,181.4 159.7,182.2C159.6,182.9 158.6,187.5 158.4,187.8C158.2,188.1 156.5,187.1 156.3,186.5C156.2,185.9 156.0,178.7 155.9,177.9C155.8,177.1 155.1,173.1 155.0,172.7C154.9,172.3 154.3,170.2 154.1,170.5C153.9,170.8 151.9,176.4 151.6,177.0C151.3,177.6 149.8,180.7 149.6,181.3C149.4,181.9 149.1,186.2 149.0,186.8C148.9,187.4 148.5,190.2 148.4,190.9C148.3,191.6 146.9,198.3 146.7,199.1C146.5,199.9 145.7,203.4 145.6,203.9C145.5,204.4 145.4,207.2 145.0,207.4C144.6,207.6 138.5,207.3 138.1,207.2C137.7,207.1 138.6,205.5 138.8,205.2C139.0,204.9 142.0,203.0 142.2,202.5C142.4,202.0 142.2,197.7 142.2,197.0C142.2,196.3 141.7,191.0 141.5,190.2C141.3,189.4 139.7,184.7 139.5,184.1C139.3,183.5 137.8,180.4 137.5,180.0C137.2,179.6 135.6,177.6 135.2,177.5C134.8,177.4 131.2,177.8 130.0,177.9C128.8,178.0 116.7,178.4 115.0,178.5C113.3,178.6 103.0,179.0 102.0,179.1C101.0,179.2 99.3,180.3 99.0,180.6C98.7,180.9 97.5,183.1 97.4,183.7C97.3,184.3 97.7,189.2 97.8,189.9C97.9,190.6 99.2,195.3 99.4,196.0C99.6,196.7 100.6,200.8 100.5,201.5C100.4,202.2 98.4,206.6 97.8,206.9C97.2,207.2 91.3,206.6 90.9,206.5C90.5,206.4 91.1,205.6 91.3,205.3C91.5,205.0 94.6,202.1 94.7,201.5C94.8,200.9 93.9,196.0 93.6,195.3C93.3,194.6 90.9,189.8 90.5,189.1C90.1,188.4 87.8,183.7 87.4,183.0C87.0,182.3 83.9,178.0 83.5,177.5C83.1,177.0 80.9,175.1 80.6,174.5C80.3,173.9 79.3,168.9 79.0,168.2C78.7,167.5 76.7,163.5 76.4,163.0C76.1,162.5 75.1,160.9 74.8,160.5C74.5,160.1 71.6,157.2 71.2,156.9C70.8,156.6 68.1,154.8 67.6,154.7C67.1,154.6 63.4,154.6 62.6,154.7C61.8,154.8 55.4,156.2 54.7,156.3C54.0,156.4 50.6,156.6 50.3,156.5C50.0,156.4 49.1,154.3 49.2,154.0Z" fill="#ababab"/><path fill="#666666" fill-rule="evenodd" d="M100.2 205.5l-4.4 0.5l-0.3 0.2l-2.7 0l-0.3 -0.2l-2.7 -0.2l0 1.7l4 0.3l0.2 0.2l4.8 0l1 -1.2zM137.0 205.5l0 2.3l3.2 0.7l5.8 0l0.2 -0.3l0.3 -2.2l-3.5 0.2l-5 -1zM138.5 203.8l2.5 0.2l0.2 0.2l2.8 0l0.2 0.3l2.6 -0.3l0.4 -1.4l0 -1.3l-0.4 0.3l-4.8 0l-0.8 -0.3zM101.5 200.8l-5 1l-3.7 0l-2.3 2.2l3.7 0.5l0.3 -0.3l2.7 0l3.8 -0.7l0.5 -0.5zM141.0 197.0l0.2 0.2l0 2.6l1.3 0.2l5.3 -0.2l0.4 -2.8l-0.7 0.2l-6.3 0zM100.8 196.5l-3.6 0.7l-4.2 0l0.2 2.8l2.8 0l5.2 -1zM149.2 192.5l-2.7 0.3l-0.3 0.2l-5.4 -0.2l0.2 2.4l0.5 0.3l5.7 0l1.3 -0.3zM100.2 194.8l-0.7 -2.6l-3.5 0.8l-5.2 -0.2l1.4 2.7l4.8 0zM139.5 188.0l0.3 1.2l0.7 1.6l0.5 0.2l4.8 0.2l4 -0.7l0.2 -2.5l-2.5 0.2l-0.3 0.3l-5.4 0zM88.2 187.8l1.6 3l2.7 0.2l0.3 0.2l2.7 0l0.3 -0.2l3.2 -0.2l-0.2 -2.8l-2 0.5l-5.6 0zM155.2 187.0l0 0.5l1.6 1.3l2.7 0l0.5 -1.6l-0.8 -0.2zM137.5 183.2l1.5 3l2.8 0.3l0.2 0.3l4.8 0l3.4 -0.8l0 -2.2l0.3 -0.6l-1.3 0.6l-3.2 0.2l-0.2 0.2l-2.8 0l-0.2 -0.2l-1.8 0zM85.5 182.8l0.7 0.7l1.3 2.5l4 0.5l0.3 0.3l4.7 0l2 -0.6l0.3 -2.4l-3 0.2l-0.3 0.2l-2.7 0l-0.3 -0.2l-4.5 -0.5zM155.0 182.5l0.2 2.7l4.6 0l0.4 0.3l0.6 -2.7l-0.8 -0.3l-2.5 0.3l-1.7 -0.6zM160.2 173.5l-0.2 0l-1.2 5.3l-0.8 1.2l0 0.5l1.8 1.3l1 -0.3zM154.2 162.2l1.8 7.3l-0.2 3.5l-1.3 4l0.5 2l0 2.8l0.5 0l1.7 -1.6l-0.2 -2.4l1.2 -3.8l0.6 -4.2l-0.6 -2.6l-2.7 -4zM121.8 158.8l0 2.4l2 7.8l-0.3 4l-1.5 5l0 1.2l2.8 0l0 -1.2l0.7 -2l1 -4.5l-0.3 -4l-1.4 -5l-0.3 -3.7zM117.0 158.8l0.5 4.2l1.5 5l0 4.5l-1.8 7l2.8 0l1.8 -7l0 -4.5l-1.8 -6l-0.2 -3.2zM133.8 158.5l-2.8 0l0 3l2 8l-0.2 3.5l-1.8 6l0.5 -0.2l2.5 0l0 -1l1.5 -5l0.3 -3l-0.3 -0.3l0 -1.7l-1.7 -6zM129.0 158.5l-2.8 0.3l0.3 3.2l1.7 6.2l0 4l-1.7 6.8l2.7 0l1.8 -6.8l0 -3.7l-1.8 -6.3zM114.8 158.5l-2.3 0l0 2.5l2 7.5l0 3.5l-1.7 7l-0.6 0.8l0.6 -0.3l2.7 0l0 -1.3l1.7 -6.2l-0.2 -4.8l-1.5 -5l-0.3 -3.4zM135.5 158.2l0 2.8l2 7.5l0 3.5l-1.7 7l-0.6 0.5l1.8 2.3l2 -0.3l2.8 1l1 -0.3l4 0.3l1.7 -0.7l2.3 0.2l0.4 -1.5l1 -1.5l1.8 -6.8l0 -3.7l-1.8 -6.3l0 -1.4l-3 -1.3l0.3 2.5l1.7 6.2l0 4l-1.7 7l-0.7 1l-0.8 0l-0.5 -1.2l2 -7.5l-0.3 -4l-1.4 -5l-0.3 -3.5l-2.7 -0.5l0 2.7l1.7 6.3l0.3 4l-0.3 0.3l-0.3 2.4l-1.2 3.8l0 1.2l-1 1.3l-0.5 0l-0.5 -0.5l0 -1.2l1.8 -6.3l0 -4.5l-1.8 -6l0 -1.8l-0.2 -0.2l0 -1.5l0.2 -0.3l-2.8 0l-0.2 0.6l0.2 3l1.8 6.2l0 4.5l-1.8 7l-1 0.7l-0.7 -0.7l0 -1.3l1.7 -6.2l-0.2 -4.8l-1.8 -6.2l0 -2.8zM108.0 158.2l0 3.3l1.8 6.3l0.2 3.2l-2 8.2l-0.5 0.6l3.7 0l-0.2 -0.3l0 -1.7l1.2 -3.8l0.3 -3l0.3 -0.2l-0.3 -3l-1.7 -6l0 -3.3zM48.2 152.8l0.3 3.7l0.7 1l2.8 0l-3 -5.3zM50.2 151.0l3.8 6.5l2.8 -0.3l0.2 -0.2l-4.2 -7.5l-0.6 0zM54.2 148.2l0 0.6l4.8 8l2.5 -0.6l0.3 -0.2l-0.8 -1.5l-1.2 -1.7l-3.3 -6zM62.5 138.8l-0.5 1.7l-0.2 2.7l3.4 6l0.8 2l0.2 2l-0.2 0.3l-1.5 -1.7l-4 -7.3l-2.5 1.5l5.8 9.8l1.2 0l0.2 -0.3l0.3 0.3l1.5 0l3.8 2.4l1.4 1.8l-3.7 -7l-1.3 -4.2l0 -1l0.3 -0.3l9.7 18.3l0.6 0.4l2.4 5.3l1.6 2l0.2 1.7l-0.2 0.8l-0.8 0.5l-0.8 -0.7l-0.4 -1.8l-1.3 -2.2l1 3.7l3.5 3.5l0.8 1.2l2 1.6l3 -0.3l1.2 0.7l6.2 0.3l1 -0.5l2.6 0l1 -1l2.2 -1l3 0l0.5 -0.2l-0.3 -1.3l1.8 -6.3l0 -3.7l-1.8 -6.3l-0.2 -4l-2.5 -0.7l-0.3 0.7l0.3 3.8l1.7 6.2l0 4l-1.7 6.8l-0.7 1l-0.6 0l-0.4 -0.5l0 -1.5l1.4 -5l0.3 -3.8l-2 -8l0 -4l-2.5 -0.4l-0.2 0.7l0 3.7l1.7 6.3l0.3 4l-0.3 0.3l-0.3 2.4l-1.2 3.8l0 1l-1 1.2l-0.5 0l-0.5 -0.4l0 -1l1.8 -6.3l0 -4.5l-1.8 -6l-0.2 -3.5l0.4 -2.3l-1.2 0l-1.5 -0.4l-0.5 4l0.2 0.2l0.3 3l1.5 5l0 4.5l-1.5 5.3l-0.3 2l-0.7 0.7l-0.5 0l-0.8 -1.3l2 -7.2l0 -3.2l-2 -7.8l0 -3.5l0.6 -2.3l-2 -1.2l-1 0.2l-0.8 -1.2l-2.8 -1.2l-0.4 -0.6l1 2.6l0 1.2l-0.6 0.5l-0.4 -0.3l-3 -5.4l-4.6 -2.6l7 13.3l1 4.3l0 1.7l-0.2 0.3l-0.8 -1l-1.2 -3.6l-2.2 -4.4l-2.6 -4.3l-3.7 -7.5l-0.5 -0.5l-4 -1.5l0.5 0.5l10.7 20.5l0.8 2.2l0 1.3l-0.8 0.3l-5 -9l-3.7 -7.6l-0.5 -0.4l-1.8 -3.8l-0.4 -0.5l-2.6 -5.5l-3.2 -3.8l-0.8 0l2.3 5.3l0.5 2l-0.2 0.7zM86.2 169.0l0.6 1.5l-0.3 3.7l-1.3 3l-0.2 1.8l-1 1.2l-0.8 -1l0 -1l1.3 -2.4l0.3 -4.6l0.7 -1.7zM88.2 156.0l0.6 0l0.7 1.2l0.3 5l1.7 6.3l-0.3 4.7l-1.2 4l-0.2 2l-1 1l-0.8 -0.4l-0.2 -0.8l1.4 -5l0.6 -4.2l-2.3 -11l0 -2.3zM67.0 147.2l0.2 -0.2l0.3 0.5l-0.3 0.3z"/><path fill="#222222" fill-rule="evenodd" d="M100.0 206.0l-2.5 0.2l-0.3 0.3l-2.2 0l-0.2 0.3l-5 -0.6l0 1.3l4 0.3l0.2 0.2l4.5 0l1.3 -1.2zM137.0 205.5l0 1.7l0.5 0.3l4 0.5l0.3 0.2l4.4 0l0.3 -1.7l-1.3 0l-0.2 0.3l-3.8 -0.3zM139.0 203.2l2 0.6l4.5 0.2l1.5 -0.5l0.2 -1.5l-0.7 0.2l-6 -0.2zM101.5 201.2l-5.3 1l-4 0l-1.2 1.6l4.2 0.2l0.3 -0.2l2 0l4 -0.8zM141.2 199.2l1 0.3l5.6 -0.3l0.4 -1.7l-1 0.3l-5.7 0l-0.3 -0.3zM101.2 198.5l-0.4 -1.5l-3.8 0.8l-4 0l0.2 1.7l3 0zM149.0 193.0l-2.8 0.2l-0.2 0.3l-5.2 -0.3l0 0.8l0.4 1l6.3 0l1.3 -0.2zM100.2 194.2l-0.4 -1.4l-4 0.7l-4.8 -0.3l1 1.8l5.2 0zM150.0 188.2l-3 0.8l-5 0l-2.5 -0.5l0.7 1.7l2.6 0.6l3.2 0l0.2 -0.3l3.3 -0.3zM88.5 188.2l1 2l1 0.3l5.3 0.3l0.2 -0.3l3 -0.3l-0.2 -1.7l-2.3 0.5l-5 0zM155.2 187.5l1.6 1.3l2.7 0l0.3 -0.8l-0.3 -0.5zM137.8 183.8l1 2l1.2 0l1.8 0.4l5.2 0l3.2 -0.7l0 -1.5l-6.4 0.8l-0.3 -0.3l-2.3 0zM86.2 183.5l1 2l4 0.5l0.3 0.2l7 -0.2l0 -1.8l-5 0.6l-0.3 -0.3l-2.2 0zM155.0 183.0l0.2 1.8l4.3 0l0.7 0.2l0.6 -1.8zM81.8 177.8l0.7 0.7l-0.3 -0.7zM160.2 174.5l-1.2 4.7l0 1.3l0.5 0.5l1.3 -0.2zM154.8 162.5l1.4 5.3l0 1.7l0.3 0.3l-0.5 4.2l-1.2 3.8l0.2 3l0.2 0.2l1 -0.5l0.3 -0.5l0 -2.2l1.3 -3.8l0.4 -4.5l-0.2 -0.3l-0.2 -2.4l-0.8 -1.6zM149.8 159.8l0.4 3.4l1.6 5l0 4l-1.6 5.3l-0.2 2l-0.8 1.3l0.3 0.4l1.3 0.3l1 -1.5l0 -1.5l1.4 -5l0.3 -5.3l-1.5 -5l-0.2 -2.4l-0.3 -0.6zM145.2 158.8l0 2.4l1.8 6.3l0.2 4l-0.2 0.3l-0.2 2.4l-1.3 3.8l0 1.8l-1.5 1.7l1.2 0.5l1.3 0l1.3 -0.8l-0.8 -1.2l0 -1l1.5 -4.8l0.3 -2.4l0.2 -0.3l0 -2.5l-1.8 -6.5l-0.2 -3.5l-0.2 -0.2zM122.2 158.8l0 2.4l2 7.8l-0.2 4l-1.5 5l0 1.2l1.5 0l1.8 -6.2l0.2 -4l-2 -7.8l0 -2.4zM117.5 158.8l0.5 4.2l1.5 5l0 4.5l-1.7 7l1.4 0l0.6 -1l1.4 -6l0 -4.5l-1.4 -5l-0.6 -4.2zM131.5 158.5l0 3l1.7 6.3l0 1.7l0.3 0.3l-0.3 3l-1.4 5l0 1l1.7 0l0 -1l1.5 -5l0.2 -3.3l-2 -8l0 -3zM128.5 158.5l-1.7 0.3l0.4 4.4l1.6 5l0 4l-1.8 6.8l1.8 0l1.7 -6.8l0 -4l-1.5 -5l-0.2 -2.4l-0.3 -0.3zM113.0 158.5l0 2.5l2 7.8l0 3.2l-2 7.5l1.8 0l2 -7.5l0 -3.2l-2 -7.8l0 -2.5zM140.8 158.2l-0.3 0.3l0.3 3.3l1.7 6.2l0 4.5l-1.5 5.3l0 1.2l-1 1.8l0 0.4l0.8 0.6l1.2 0.2l1.5 -0.5l-0.7 -0.7l-0.6 -1.3l0.6 -1l1.4 -6l0 -4.5l-1.7 -6.2l0 -1.6l-0.3 -0.2l0.3 -1.8zM136.0 158.2l0 2.8l2 7.8l0 3.2l-2.2 8.2l1 1l0.7 0l0.7 -0.4l-0.2 -2.6l1.8 -6.2l0 -3.2l-2 -7.8l0 -2.8zM108.5 158.2l0 3.3l1.7 6.3l0.3 3.2l-0.7 4l-1.6 4.8l2.3 0l0 -2l1.3 -3.8l0.4 -4.5l-2 -8l0 -3zM104.0 157.8l-0.2 0.2l0 2.5l0.2 0.3l0.2 2.4l1.6 5l0 4l-2 7.8l2 0l0 -1.5l1.7 -6.3l0 -4l-1.7 -6.2l-0.3 -4zM99.5 156.8l-0.3 0.4l0 4l1.8 6.3l0.2 4l-0.2 0.3l-0.2 2.4l-1.3 3.8l0 1.2l-1 1.8l0.7 0.5l1 0l1 -0.7l0 -2.8l1.6 -5l0.2 -4l-2 -7.8l0 -4.2zM95.0 156.0l-0.5 4l0.3 0.2l0.2 2.8l1.5 5l0 4.5l-1.5 5.3l0 1.4l-0.5 1.3l-1 1l1 0.5l1.5 0l1 -0.5l0 -0.7l-0.8 -1.3l0.6 -1l1.4 -6l0 -4.5l-1.2 -4l-0.8 -4l0.6 -3.8zM91.0 154.2l-1 2.3l0 3.5l0.2 0.2l0.3 3l1.3 4l0.2 4.8l-1.8 6.2l0 1.3l-0.7 1l0 0.7l0.7 0.6l2 0l0.6 -0.6l-1 -1.2l0 -1l0.4 -1l1.6 -6l0 -3.2l-2 -7.8l0 -3.5l0.4 -2.5zM48.5 152.5l-0.3 0.3l0 3l1 1.7l2.3 0zM86.5 151.8l1 2.7l0.7 0.3l0.6 -0.8l0 -1zM50.8 150.5l4 7l1.7 -0.3l-4 -7.2l-0.5 -0.2zM78.8 147.5l2.4 4.3l1.8 3.7l2 3l1.8 5.3l0.2 2.4l0.2 0.3l0 6.3l-0.7 3.2l-0.7 1.8l0 1l-0.6 1l0 0.7l0.6 0.5l1 0.2l0.7 -0.4l-0.3 -1.8l1.3 -4l0.7 -4l-0.2 -3.2l-0.8 -2.3l-0.7 -5.3l-0.7 -2.7l-1.8 -2l-2.8 -5.7l-1.4 -1.3zM56.0 147.0l-1.2 1l0.4 1.5l3.8 6.5l0.5 0.5l1.7 -0.3zM58.5 145.8l5.7 10l1 -0.3l0.8 0.3l-2 -4.3l-4 -6.7zM71.8 144.2l7.4 13.8l1.8 3.8l0.5 0.4l2.5 5.8l0.5 0.2l0.3 -0.2l-0.3 -2.8l-2.3 -5.4l-0.4 -0.6l-7 -13.4l-0.6 -0.6zM62.2 139.2l-0.2 3.6l2.5 4l2.3 4.4l1.2 5.3l2.8 1.7l-3.3 -6l-2.3 -7.4zM64.8 138.2l2 4l1.4 5l2.3 4.8l0.5 0.5l9.2 17.7l1.8 2.3l0.5 2.3l0 2l0.3 0.2l1 -1l0.4 -2l-0.2 -2.5l-2.2 -1.7l-3.6 -7.6l-9 -16.4l-2 -5z"/></g>
<g clip-path="url(#c_zeb2)"><path d="M171.7,154.5C171.8,154.2 173.6,152.5 174.3,152.0C175.0,151.5 182.3,147.0 182.9,146.6C183.5,146.2 184.9,145.3 185.1,145.0C185.3,144.7 185.7,141.3 185.8,141.0C185.9,140.7 186.2,139.6 186.4,139.7C186.6,139.8 188.3,141.8 188.5,142.0C188.7,142.2 189.9,143.5 190.1,143.7C190.3,143.9 191.1,144.7 191.6,145.0C192.1,145.3 197.8,147.8 198.9,148.3C200.0,148.8 208.4,153.6 209.4,154.1C210.4,154.6 214.6,156.9 215.7,157.2C216.8,157.5 226.9,159.6 228.5,159.8C230.1,160.0 240.4,160.3 242.5,160.3C244.6,160.3 262.1,159.8 263.7,159.8C265.3,159.8 269.1,160.5 269.7,160.7C270.3,160.9 273.6,162.1 274.1,162.4C274.6,162.7 277.1,165.0 277.5,165.4C277.9,165.8 279.8,169.1 280.1,169.7C280.4,170.3 281.7,175.0 281.8,175.8C281.9,176.6 282.3,181.9 282.2,182.7C282.1,183.4 281.1,188.0 280.9,188.3C280.7,188.6 278.9,187.6 278.8,187.0C278.7,186.4 278.5,179.2 278.4,178.4C278.3,177.6 277.6,173.6 277.5,173.2C277.4,172.8 276.8,170.7 276.6,171.0C276.4,171.3 274.4,176.9 274.1,177.5C273.8,178.1 272.3,181.2 272.1,181.8C271.9,182.4 271.6,186.7 271.5,187.3C271.4,187.9 271.0,190.7 270.9,191.4C270.8,192.1 269.4,198.8 269.2,199.6C269.0,200.4 268.2,203.9 268.1,204.4C268.0,204.9 267.9,207.7 267.5,207.9C267.1,208.1 261.0,207.8 260.6,207.7C260.2,207.6 261.1,206.0 261.3,205.7C261.5,205.4 264.5,203.5 264.7,203.0C264.9,202.5 264.7,198.2 264.7,197.5C264.7,196.8 264.2,191.5 264.0,190.7C263.8,189.9 262.2,185.2 262.0,184.6C261.8,184.0 260.3,180.9 260.0,180.5C259.7,180.1 258.1,178.1 257.7,178.0C257.2,177.9 253.7,178.3 252.5,178.4C251.3,178.5 239.2,178.9 237.5,179.0C235.8,179.1 225.5,179.5 224.5,179.6C223.5,179.7 221.8,180.8 221.5,181.1C221.2,181.4 220.0,183.6 219.9,184.2C219.8,184.8 220.2,189.7 220.3,190.4C220.4,191.1 221.7,195.8 221.9,196.5C222.1,197.2 223.1,201.3 223.0,202.0C222.9,202.7 220.9,207.1 220.3,207.4C219.7,207.7 213.8,207.1 213.4,207.0C213.0,206.9 213.6,206.1 213.8,205.8C214.0,205.5 217.1,202.6 217.2,202.0C217.3,201.4 216.4,196.5 216.1,195.8C215.8,195.1 213.4,190.3 213.0,189.6C212.6,188.9 210.3,184.2 209.9,183.5C209.5,182.8 206.4,178.5 206.0,178.0C205.6,177.5 203.4,175.6 203.1,175.0C202.8,174.4 201.8,169.4 201.5,168.7C201.2,168.0 199.2,164.0 198.9,163.5C198.6,163.0 197.6,161.4 197.3,161.0C197.0,160.6 194.1,157.7 193.7,157.4C193.3,157.1 190.6,155.3 190.1,155.2C189.6,155.1 185.9,155.1 185.1,155.2C184.3,155.3 177.9,156.7 177.2,156.8C176.5,156.9 173.1,157.1 172.8,157.0C172.5,156.9 171.6,154.8 171.7,154.5Z" fill="#ababab"/><path fill="#666666" fill-rule="evenodd" d="M222.5 206.5l-1.7 2l0.4 0zM259.5 206.5l0 2l2.7 0l1 0.5l5.3 0l-5 -2.2l-2.7 -0.3l-0.3 -0.3zM260.5 204.5l3 0.3l3.3 1.2l2.2 1.2l0 -2l0.2 -0.2l-5.2 -2.2l-1.2 0zM224.0 201.2l-1.2 0l-1 0.6l-4 4l-2 2.4l2.4 0.3l4.6 -4.7l1.2 -0.6zM263.8 198.8l0 2l0.2 0.2l0.8 0l5 2.2l0.2 -2.2l-2.2 -0.8l-1.8 -1zM215.5 198.8l0.3 1.4l0.2 0l0 -1zM263.5 194.8l0 2l1.3 0l3.4 1.7l2.3 0.5l0.5 -2l-2 -0.2l-2.8 -2zM268.0 193.5l0.2 1.3l3 0.2l0.6 -2l-3.3 0zM213.0 193.0l2.2 3.8l1.3 1l2 0.2l0.7 0.8l-0.2 1l-2 0.4l-0.5 0.6l-0.7 1.7l-1 0.7l-2.6 3.3l0 1.5l1.3 0.2l4 -5l2.3 -1.7l0.7 -1.5l1 -0.5l1.5 0l0.8 -0.3l-0.6 -2l-2.4 0zM272.5 189.0l-2.7 0l-1.3 0.2l-2.5 1.3l-3.2 0.3l0.2 0.2l0 1.5l0.2 0.3l3.3 0l2.7 -1.8l3 0zM210.8 188.2l1.4 2.6l2.6 1l1.7 1.2l4 2l2.3 0.2l-0.6 -2l-3.7 -1.4l-4 -2.6l-2.7 -1zM278.0 188.0l1.2 1.2l2.8 0l0.2 -0.7zM272.8 185.0l-3.8 0.2l-4.8 1.6l-2.7 0l0.5 2.2l0.2 -0.2l2.6 0l4.4 -1.6l3.3 -0.2l0.3 -0.2zM277.5 184.5l0.3 0.3l0 1.7l2.2 -0.3l2.5 0.6l0.5 -2l-2.8 -0.3l-0.2 -0.3zM208.5 183.8l1.3 2.2l3 0.5l1.2 0.5l4.2 2.5l3.3 1.5l-0.3 -2.2l-3.2 -2l-4 -2l-2 -0.6l-3.2 -0.2zM273.8 181.0l-4 0.2l-5.8 1.6l-4.2 0.2l0.7 2l2.5 0l6.8 -1.8l3.2 0zM277.5 180.8l0 2l0.7 -0.3l5 0.3l0 -2l-1.7 0l-0.3 -0.3zM204.8 178.8l1.7 2.4l0.7 0.6l4.3 0.4l3.3 0.8l6.2 3.5l0.2 -2.3l-5.2 -3l-2.5 -0.7l-6 -0.7zM253.8 179.5l-7 -1.7l-3 -0.3l-0.3 0.3l-1.3 0l-2.4 1l-1 0l-1 0.4l-5 1l9.7 -0.2l0.3 -0.2l4.7 0l0.3 -0.3zM275.5 177.0l-3.7 0l-7.8 1.8l-3.5 0.2l-0.3 0.2l-3.4 0l2 2l4.2 -0.2l6 -1.5l5.8 -0.5zM277.0 176.8l0.2 2l5.6 0l0.4 0.2l-0.2 -0.2l0 -2zM201.2 173.2l0.8 2.6l1.5 0.7l4.7 1.5l1.3 0l1.7 0.5l2.3 0l2 0.5l2.3 1l4 2.5l0.4 0l0.3 -0.5l1.5 -0.8l0 -0.2l-2 -0.8l-5.2 -3l-1.6 -0.4l-7.4 -1l-3.8 -1.6l-0.8 0zM199.8 168.2l1 2l0 0.8l2 1l5.7 2l7.7 1l4.3 2l3.3 2l2 0.5l5 -0.5l5.2 -1.5l3 -0.5l4.2 -1.5l4.3 0.5l5.3 1.5l5.7 0l0.3 -0.3l5.7 -0.4l7.5 -1.8l4.2 0l0.3 -0.2l0.3 0.2l1.7 0l0.3 -0.2l3.2 0l0.8 0.2l0 -1l-0.6 -1.2l-10.7 0.2l-7 1.8l-1.5 0l-2 0.4l-2.8 0l-0.2 0.3l-4.8 0l-6.4 -1.7l-4 -0.3l-4.8 1.7l-3.5 0.6l-4 1.2l-5.3 0.2l-1.4 -0.4l-4 -2.6l-2.3 -1l-0.7 0l-1 -0.4l-4 -0.3l-3.8 -0.7l-3.5 -1.3zM194.2 160.0l2.8 2.8l0 0.4l1.2 2l4 2.3l6.6 2.5l1 0l1.2 0.5l5.8 0.5l1 0.5l0.7 0l5 3l2.7 1l2.3 0l2.5 -0.5l2.8 -1l3.4 -0.5l5 -2l2.8 0l1.2 0.5l3.8 0.5l2.5 1l3.7 0.3l0.3 -0.3l3 0l0.3 -0.3l1.7 0l0.3 -0.2l4.4 -0.5l5 -1.5l10.6 0l-0.6 -2l-10.4 0l-5.8 1.8l-1.8 0l-0.2 0.2l-3.8 0.2l-0.2 0.3l-2.2 0l-0.3 0.3l-2.7 0l-4.3 -1.6l-1.7 0l-3.8 -1l-1.8 0l-4.2 2l-2 0.6l-1.8 0l-4.4 1.4l-2.6 0.3l-0.2 -0.3l-1.2 0l-3.3 -2l-4.3 -2l-2.2 -0.4l-2.5 0l-0.3 -0.3l-3 -0.3l-4 -1.2l-1.2 -0.8l-1.8 -0.4l-1.4 -1l-0.6 0zM240.0 159.2l1.2 0.3l1.3 -0.3zM277.5 163.2l-2.7 -2l-4.6 -0.4l-2.4 -1.6l-2.8 -0.4l-0.2 0.2l-1.6 0l-3.7 0.8l-3.5 0l-0.2 0.2l-3 0.2l-1.6 0.6l-2.4 1.4l-2.3 0.6l-0.3 1l0.8 0.7l2 0l3.2 -2l1.6 -0.5l5.7 -0.2l0.3 -0.3l1.7 0l3.7 -0.7l1.8 0.2l1.5 1.5l1.3 0.5zM227.0 158.2l2.8 1.3l2.4 2l1.3 0.5l3 0l2.7 1.5l2.8 0l0.2 -0.3l3 -0.2l2 -2.5l1.3 -0.3l2.3 -1.2l0.4 0l-0.7 0.2l-4.7 0l-2.8 2l-3.2 0l-2.6 -1l-3 -0.2l-1.7 -1l-4.3 -0.2zM171.5 157.5l0.3 0.5l3.7 0l2.7 -1.8l2.6 -0.4l1.2 0.2l6.5 0l0.3 0.2l3.2 0.3l1.2 0.5l8.8 6l4.2 2l5 1.5l6 0.5l1 0.5l0.8 0l7.8 4l2.4 0l4 -1.5l3.6 -0.2l2.7 -1.3l0.5 -0.5l2.8 -0.8l2.4 0.3l3 1l2.8 0l2 1.3l1.8 0.2l0.2 -0.2l5.2 -0.3l2 -0.5l4.8 -0.5l3.2 -1.5l9.8 0l-0.5 -1.2l-0.7 -0.8l-9.8 0l-3 1.8l-2.2 0l-3.8 0.7l-6.5 0.5l-1 -0.5l0 -0.7l0.7 -0.8l2.3 0l0.3 -0.2l5.2 -0.3l3.8 -0.7l2.2 0l0.8 -0.8l-0.3 -1l-0.5 -0.2l-2.8 0l-0.2 0.2l-5.2 0.5l-0.3 0.3l-5.3 0.2l-0.7 0.2l-2.3 2l-1.2 0.3l-1.8 -0.3l-1.7 -1l-5.5 0.3l-1.2 0.5l-1.8 1.8l-3.2 0l-2 0.4l-1.8 1l-2.5 0.3l-2.7 -1.3l-3.3 -2l-2.7 -1l-8.3 -1l-5.5 -2l-2.8 -1.4l-3 -2.3l-3 -1.7l-1.7 -1.6l-1.7 -0.7l-4.6 -0.3l-0.2 -0.2l-8.8 -0.2l-1.7 0.4l-2.3 1.6zM170.8 153.5l0 2.3l7.2 -3.8l8.5 0l0.3 0.2l7.2 0.6l1 0.4l1.8 1.8l2.4 1.2l4.6 3.3l3 1.5l4.4 1.5l6.3 0.5l2 0.5l3.7 1.5l4.3 2.5l2.3 0l1.4 -1.3l0.8 -0.2l4.5 0l1 -0.2l0.5 -0.6l-0.5 -1.2l-1 -0.2l-0.7 0.2l-3.6 -0.2l-1.7 -1.8l-9 -4.2l-3.7 -0.8l-4.6 -0.2l-4.7 -1.6l-2.7 -1.4l-5.6 -4l-1.2 -0.6l-1.5 0l-1.5 1l-1.5 0.6l-4.3 -0.3l-0.2 -0.3l-12.2 -0.4zM196.5 152.0l0.7 -0.8l1.8 0.3l7.5 5l5 2l1.3 0l1.7 0.5l3 0l4 1l4.5 2l1.2 1l2 0.5l1 0.7l0 0.8l-0.4 0.5l-1.6 0l-7.2 -3.7l-3.2 -0.8l-4.6 -0.2l-4 -1l-5.2 -2.6l-4.8 -3.4l-1.7 -0.6zM178.2 147.8l0.8 0.2l4.5 0l0.3 0.2l10 0.6l0.2 -0.3l1.2 0l2.3 -1l2.5 0l7.2 5l3.3 1.5l3.3 0.8l-17 -9l-2.6 0.7l-5.7 0l-0.3 -0.3l-7 -0.2zM183.8 144.2l6.7 0.3l0.3 0.3l3.2 -0.3l-1 -0.3l-1.8 -1.4l-5 -0.3l-0.2 -0.3l-1.5 0l-0.3 1.6zM184.8 139.8l0 0.7l4.4 0.3l-1.7 -2l-2.3 0z"/><path fill="#222222" fill-rule="evenodd" d="M259.5 206.8l0 1.2l2.3 0l2 0.5l0.7 0.5l3.3 0l-4.8 -2zM261.2 204.0l4.3 1l3.5 1.8l0 -1.6l-4.8 -2l-1.7 -0.2zM224.0 201.5l-2.2 0.7l-3.6 3.6l-2 2.4l0.3 0.3l1.3 0l4 -4.5l2.2 -1.2zM219.2 200.2l-2 0.6l-0.4 1.2l-4.6 5.2l0 0.8l1 0l3.8 -4.8l2.2 -2l0.3 -0.4zM263.8 199.0l0 1.5l0.7 0l5.3 2.3l0.2 -1l-0.2 -0.6l-2 -0.4l-2.8 -1.6zM263.5 195.0l0 1.2l2 0.3l3.7 2l1.3 0.3l0.3 -0.6l-0.3 -1l-2 -0.2l-2.5 -1.8zM213.2 193.5l1.8 2.5l2.2 1.5l1.3 0l1 0.5l0.7 1.2l3.3 -0.2l-0.3 -1.2l-3.2 -0.3l-1.2 -1l-2.6 -1l-0.7 -0.7zM268.5 193.8l0.5 0.7l2.2 0.3l0.3 -0.6l-0.3 -1l-2.2 0zM272.2 189.5l-1 -0.3l-2 0.3l-3.4 1.5l-2.8 0.2l0 1l1.2 0.3l2 -0.3l2.6 -1.4l1.2 -0.3l2.2 0.3zM278.2 188.5l1 0.7l2.8 0l-0.2 -0.4zM211.0 188.5l0.8 1.5l2.4 1l3 2l0.6 0l2.4 1.5l2.6 0.5l-0.6 -1.5l-1.4 -0.3l-7.3 -4zM272.8 185.5l-2.8 0l-3.2 0.7l-0.8 0.6l-2.5 0.4l-1.7 0l0 0.8l0.2 0.5l2 0l4.5 -1.5l4.3 -0.2zM277.8 186.0l4.7 0.2l0.5 -1.2l-4.8 -0.2l-0.4 0.2zM208.8 184.2l0.7 1.6l1.5 0l3 0.7l6 3.5l1.5 0.5l-0.3 -1.5l-7 -3.8zM273.8 181.5l-4.8 0.3l-5.5 1.4l-2.7 0l-0.8 0.3l0.2 1l3.6 0l5.2 -1.5l4 -0.2zM277.5 181.2l0 1l2.5 -0.2l0.2 0.2l3 0.3l0 -1.3l-0.7 -0.2l-4.7 0zM205.5 179.5l1.3 1.7l7 1l3 1.3l4.2 2.5l0 -1.5l-6 -3.3l-7.2 -1zM234.2 180.2l1 -0.2l5.8 0l2.5 -0.8l2 0l1.7 0.6l0.6 -0.3l4.4 0l-2 -0.3l-1 -0.4l-1 0l-2.4 -0.8l-2.8 0l-3.8 1.2zM275.5 177.2l-4.5 0.3l-7.5 1.7l-6 0.6l1 1.2l0.3 -0.2l4.7 -0.3l6 -1.5l5.5 -0.2zM277.0 177.2l0.2 1.3l1.3 -0.3l4.5 0.3l0 -1.3l-1.2 0l-0.3 -0.2zM201.5 173.8l0.3 1.4l1.4 0.8l0.8 0l0.8 0.5l3.2 1l7.2 1l4.3 2l2.7 1.7l1.6 -1l-1.8 -0.4l-5 -3l-2.8 -0.8l-6.2 -0.8l-4.5 -1.4zM200.0 168.8l1 2l2.8 1.2l5.4 1.8l6.8 0.7l3.5 1.5l4 2.5l1.7 0.5l3.3 0l0.3 -0.2l2.4 -0.3l3 -1l5.3 -1l3.3 -1.3l3 0l6.4 1.8l3.8 0.2l0.2 -0.2l3.6 0l0.2 -0.2l3.8 -0.3l7.2 -1.7l11.8 -0.3l-0.3 -1.3l-9.7 0l-9 2l-3.6 0.3l-0.2 0.3l-6.2 0.2l-6.6 -1.8l-4 -0.4l-4 1.4l-4 0.8l-4 1.2l-2.4 0.3l-0.3 0.3l-3 0l-3 -1.3l-1.7 -1.3l-3 -1.4l-3.3 -0.8l-4 -0.2l-1.3 -0.6l-1 0l-0.7 -0.4l-0.7 0l-0.8 -0.6l-2 -0.4zM195.8 161.5l1.2 1.3l0.2 1l1.3 1.2l5.7 3l6.3 2l5.7 0.5l2 0.5l7.6 4l3.2 0l5.2 -1.5l3.6 -0.5l5 -2l1.7 0l1.3 0.5l3.7 0.5l3.7 1.2l4.3 0l0.3 -0.2l2.7 0l2 -0.5l1.7 0l2.6 -0.5l2.7 -1l3 -0.2l0.3 -0.3l0.2 0.3l8.8 -0.3l-0.6 -1.3l-3.7 0l-0.3 0.3l-5.7 -0.3l-5.7 1.8l-11.3 1.2l-0.3 -0.2l-1.2 0l-3 -1.2l-3 -0.3l-2.5 -0.7l-2.5 0l-4.2 2l-4 0.4l-4.6 1.6l-3 0l-2.4 -1l-1.3 -1l-4 -2l-2 -0.6l-5.7 -0.4l-5 -1.6l-5.3 -2.4l-4 -3zM276.8 162.8l-1.6 -1.3l-4.7 -0.3l-4 -2l-2.5 0l-1.5 0.6l-1.7 0l-2.3 0.4l-5.3 0.3l-1.4 0.5l-2 1.2l-2.6 0.8l-0.2 0.8l0.8 0.4l0.7 0l4 -2.2l2 -0.5l3.7 0l0.3 -0.3l3.7 -0.2l1.8 -0.5l2.8 0l3 2zM229.0 158.8l4.2 2.7l3.8 0.3l2.2 1.2l5 -0.2l2.3 -2.3l3.3 -1.3l-3.3 0l-3 2.3l-3.5 0.3l-2.5 -1l-3.7 -0.6l-2.6 -1.4zM171.8 157.8l0 0.2l2.7 0l3.3 -2l1.4 -0.5l7.6 0l0.2 0.3l4.8 0.2l2.2 1l5.2 3.8l4.6 2.7l1.7 0.5l1.7 1l0.8 0l0.8 0.5l2 0.5l5.7 0.5l2.3 0.5l3.4 1.5l3 2l1.3 0.5l3 0l4.3 -1.5l3.2 -0.3l3 -1.7l1.5 -0.5l3.5 0l2.8 1l3.2 0l2.5 1.5l2.5 0l0.2 -0.3l5 -0.2l1.8 -0.5l3.2 -0.3l4.6 -1.7l1.4 0l0.3 0.3l7 0l0.3 -0.3l-0.6 -1l-9.4 -0.3l-1.3 0.6l-1.3 1l-2 0.4l-2.2 0l-1.8 0.6l-5 0.2l-0.2 0.2l-3.5 0l-0.7 -1l0 -0.7l1 -0.7l9 -0.8l1.7 -0.5l2.7 0l0.8 -0.5l0 -0.5l-1.2 -0.5l-0.3 0.2l-1.7 0l-4 0.8l-6 0.2l-0.8 0.3l-1.5 1.7l-1.3 0.6l-3 0l-1.7 -1l-1.3 -0.3l-3.4 0.3l-1.3 0.4l-1 1l-2 1l-3.3 0l-3.4 1.6l-3 0l-3.3 -2l-4.5 -2l-2.2 -0.6l-2.6 0l-0.2 -0.2l-3.2 -0.2l-4.6 -1.6l-4 -2l-3.2 -2.4l-3.5 -2l-1 -1l-2.5 -1l-5.5 -0.3l-0.3 -0.3l-7.4 0l-2.3 1l-2.3 1.6zM170.8 154.0l0 1.2l3 -1.2l3 -2l1.4 -0.5l5.6 0l0.2 0.3l4 0l0.2 0.2l5.6 0.2l2 0.8l1 1.5l2 1l5 3.5l4 2l0.7 0l0.7 0.5l3 0.7l4.6 0.3l2.4 0.5l2.8 1l5.2 3l1.8 0.2l1 -0.4l0.2 -0.6l-0.2 -0.2l-2.2 -0.2l-3.3 -2l-3.5 -1.6l-2.5 -0.7l-4.7 -0.3l-5 -1.2l-3.8 -1.8l-3.2 -2l-2.6 -2l-2.2 -0.7l-1 -0.7l0 -1.3l0.8 -0.7l1 0l2 0.7l4.4 3.3l3 1.7l2.6 1l4 1l4.7 0.3l4.3 1.2l5.4 3l2 0.5l0.6 0.5l0.2 1.5l5.8 0l0.4 -0.3l0 -0.4l-0.4 -0.6l-4.6 0l-1 -0.4l-2 -2l-0.4 0l-2.6 -1.6l-0.4 0l-0.6 -0.4l-3.4 -1.6l-3.3 -0.7l-4.7 -0.3l-5 -1.4l-4.6 -2.6l-4.7 -3.4l-2 0l-1.5 1.2l-4.2 0l-0.3 -0.2l-8.3 -0.3l-0.2 -0.3l-5.5 0zM202.2 148.5l5 3.5l3 1.5l2 0.5zM199.5 147.0l-2 -1l-3.7 1l-8.6 -0.2l-0.2 -0.3l-4 0l-0.2 -0.3l-2.3 1.3l15.7 0.7l3.6 -1.2zM184.0 144.0l9.2 0.2l-1.7 -1.2l-3.3 0l-0.2 -0.2l-3.5 0zM184.8 140.0l1.4 0l0.3 0.2l2.3 0l-1 -1.2l-2.6 -0.2z"/></g>
<g clip-path="url(#c_zeb3)"><path d="M294.4,154.0C294.5,153.7 296.3,152.0 297.0,151.5C297.7,151.0 305.0,146.5 305.6,146.1C306.2,145.7 307.6,144.8 307.8,144.5C308.0,144.2 308.4,140.8 308.5,140.5C308.6,140.2 308.9,139.1 309.1,139.2C309.3,139.3 311.0,141.3 311.2,141.5C311.4,141.7 312.6,143.0 312.8,143.2C313.0,143.4 313.8,144.2 314.3,144.5C314.8,144.8 320.5,147.3 321.6,147.8C322.7,148.3 331.1,153.1 332.1,153.6C333.1,154.1 337.3,156.4 338.4,156.7C339.5,157.0 349.6,159.1 351.2,159.3C352.8,159.5 363.1,159.8 365.2,159.8C367.3,159.8 384.8,159.3 386.4,159.3C388.0,159.3 391.8,160.0 392.4,160.2C393.0,160.4 396.3,161.6 396.8,161.9C397.3,162.2 399.8,164.5 400.2,164.9C400.6,165.3 402.5,168.6 402.8,169.2C403.1,169.8 404.4,174.5 404.5,175.3C404.6,176.1 405.0,181.4 404.9,182.2C404.8,182.9 403.8,187.5 403.6,187.8C403.4,188.1 401.6,187.1 401.5,186.5C401.4,185.9 401.2,178.7 401.1,177.9C401.0,177.1 400.3,173.1 400.2,172.7C400.1,172.3 399.5,170.2 399.3,170.5C399.1,170.8 397.1,176.4 396.8,177.0C396.5,177.6 395.0,180.7 394.8,181.3C394.6,181.9 394.3,186.2 394.2,186.8C394.1,187.4 393.7,190.2 393.6,190.9C393.5,191.6 392.1,198.3 391.9,199.1C391.7,199.9 390.9,203.4 390.8,203.9C390.7,204.4 390.6,207.2 390.2,207.4C389.8,207.6 383.7,207.3 383.3,207.2C382.9,207.1 383.8,205.5 384.0,205.2C384.2,204.9 387.2,203.0 387.4,202.5C387.6,202.0 387.4,197.7 387.4,197.0C387.4,196.3 386.9,191.0 386.7,190.2C386.5,189.4 384.9,184.7 384.7,184.1C384.5,183.5 383.0,180.4 382.7,180.0C382.4,179.6 380.8,177.6 380.4,177.5C379.9,177.4 376.4,177.8 375.2,177.9C374.0,178.0 361.9,178.4 360.2,178.5C358.5,178.6 348.2,179.0 347.2,179.1C346.2,179.2 344.5,180.3 344.2,180.6C343.9,180.9 342.7,183.1 342.6,183.7C342.5,184.3 342.9,189.2 343.0,189.9C343.1,190.6 344.4,195.3 344.6,196.0C344.8,196.7 345.8,200.8 345.7,201.5C345.6,202.2 343.6,206.6 343.0,206.9C342.4,207.2 336.5,206.6 336.1,206.5C335.7,206.4 336.3,205.6 336.5,205.3C336.7,205.0 339.8,202.1 339.9,201.5C340.0,200.9 339.1,196.0 338.8,195.3C338.5,194.6 336.1,189.8 335.7,189.1C335.3,188.4 333.0,183.7 332.6,183.0C332.2,182.3 329.1,178.0 328.7,177.5C328.3,177.0 326.1,175.1 325.8,174.5C325.5,173.9 324.5,168.9 324.2,168.2C323.9,167.5 321.9,163.5 321.6,163.0C321.3,162.5 320.3,160.9 320.0,160.5C319.7,160.1 316.8,157.2 316.4,156.9C316.0,156.6 313.3,154.8 312.8,154.7C312.3,154.6 308.6,154.6 307.8,154.7C307.0,154.8 300.6,156.2 299.9,156.3C299.2,156.4 295.8,156.6 295.5,156.5C295.2,156.4 294.3,154.3 294.4,154.0Z" fill="#ababab"/><path fill="#666666" fill-rule="evenodd" d="M388.8 204.2l-1.3 1l1 0.3zM334.8 166.8l0.4 2l2.8 3l3.8 -2.3l3 -0.7zM329.8 161.2l1.4 3.3l1.6 5.7l2.2 2.3l2.5 3.7l1.7 -2l1.8 -1.2l2 -1l3.2 -0.8l9.6 -0.2l2.2 -0.5l2.8 0l0.2 0.3l7.5 -0.3l2.3 -0.5l3.2 0l0.5 0.2l0.3 -0.2l3.7 0l0.3 -0.2l3.7 0.2l2.3 0.8l1.7 1.4l2.3 2.8l2.7 -6l0 -0.8l-4.5 -1.2l-11.8 0.2l-0.2 0.3l-16.2 0l-0.3 -0.3l-9.3 -0.2l-3.2 -1l-5.8 -0.8l-3.4 -1l-1 0l-0.8 -0.4l-0.8 0zM356.5 169.0l0.3 -0.2l1.4 0l0.3 0.2l-0.3 0.2l-1.4 0zM383.8 168.8l0.2 -0.3l2.5 0l2.5 0.5l0.2 1l-0.4 1.5l-0.6 0.3l-2.7 -2.3zM333.5 165.8l0.7 -0.3l0.3 0.3l4.7 0.4l7 1.8l1.3 0l2.5 0.8l2.5 0l0.3 0.2l-0.3 0.2l-2.3 0l-1.2 0.6l-2.5 0l-1.5 0.4l-3.5 0.6l-3.7 2.7l-1.3 -1.7l-2.5 -2.6zM317.8 151.5l1.4 1l5.3 5.5l2.3 4.2l1 1.3l0 0.5l1 1.8l1.4 6.2l4.6 5l3 4.8l0.2 0l0.2 -1.3l1.6 -2.5l2 -2l3.2 -1.5l3.2 -0.3l2 -0.4l6 0l0.3 -0.3l4.5 0.3l0.2 -0.3l2.3 0l0.3 -0.3l5 0l0.2 -0.2l4.5 0.2l2 -0.4l5.3 -0.3l2.2 0.7l3 2.8l2 2.8l0.5 2l0.5 0.4l0.5 1.6l0.7 -3.8l1.8 -3.8l0 -0.7l1.2 -2.3l0.8 -2.4l0.8 -1.6l0.7 -0.7l-0.5 -0.7l-2 -1l-1.5 -0.3l-0.5 -0.5l-3.5 -0.8l-1.7 0l-0.3 -0.2l-0.5 0.2l-3.2 0l-0.3 0.3l-7 0l-0.3 0.3l-0.2 -0.3l-3.2 0l-0.3 0.3l-18 -0.3l-0.3 -0.3l-3.7 -0.2l-1 -0.5l-1.3 0l-5.7 -1.5l-2.7 -0.2l-2.8 -0.8l-3.8 -2.2l-4 -2l-0.4 0l-2.3 -1.3l-1.5 -1.3zM326.8 158.8l0.4 -0.3l2.3 1.5l2.3 0.8l2.2 1.4l2 0.8l6.2 1l2 0.8l4.8 1l8.5 0.2l1.7 0.5l1.3 0l0.3 -0.3l10.2 0l0.2 0.3l2.3 0l1.7 -0.5l8.3 -0.2l0.3 0.2l6.2 0.2l3.2 1.6l-1.4 2.7l0 1l-1 3l-1.8 3l-2.2 -3.5l-2.6 -2l-4 -1.2l-1.4 0l-1.6 0.4l-2.2 0l-0.2 0.3l-6.3 0l-0.3 0.3l-4.7 0l-0.3 0.2l-7.2 0l-0.2 0.2l-9.6 0.3l-3.4 1l-3.3 2.3l-2 2.2l-1.5 -1.8l-1.2 -2.2l-3.3 -3.2l-1.3 -5.6l-1 -1.7l-0.4 -1.7l-1.3 -2.3zM309.8 149.5l2 0l3.2 0.7l-1.5 -0.7l-0.7 0l-1.8 -1.3zM297.0 154.5l2.8 -0.3l1.2 -0.4l3.8 -0.6l2 -0.7l2 0l0.2 -0.3l4.8 0.6l3.2 1.7l5.2 5.3l2.6 4.2l1.4 3.2l0.3 2.3l1.3 4l1.2 1l3.8 4.5l1.7 3.5l1.7 2.5l0.6 1.5l4.2 8.3l0 1.7l1.2 4.5l-0.2 1.5l-2 2.3l0.8 0.2l1.2 -0.2l0 -0.8l1 -1.5l0.5 -2l-1 -3.3l0 -1.2l-0.7 -1.5l-1 -4l0.2 -0.3l0 -1.2l-0.2 -0.2l0 -2.6l-0.6 -1l0 -1.7l0.6 -1.7l1 -1.8l2.2 -2l1.2 -0.8l2 -0.4l2 0.2l0.3 -0.2l6 0l0.3 -0.3l7.2 0l1.5 -0.5l2.7 0l0.3 0.2l0.7 -0.2l6.3 0l4 -0.8l2.7 0.3l3.3 3l1.3 2.3l0 0.7l1 2l0 0.7l1 1.6l0.2 1.7l0.8 1.7l0 1.8l0.4 2.2l0 2.8l0.3 0.2l0 3.6l1 -3.6l0.3 -3.4l1.2 -4.3l0.2 -6l0.6 -2l0.7 -1l0.3 -1.3l1.4 -3.7l0.6 -0.5l0.2 -1.8l1.2 -2.7l1.8 -1l1 0.3l-1.8 -3l-1.7 -1.6l-4.7 -2.2l-1.3 -0.2l-7.7 -0.3l-0.6 -0.3l-0.2 0.3l-6.5 0l-1.3 0.5l-4.4 0l-0.3 -0.2l-10.5 0.2l-2.5 -0.5l-7.5 -0.3l-5.8 -1.2l-1 -0.5l-4.2 -0.5l-1.5 -0.5l-2 -1.5l-6.5 -3l-3 -2l-4.2 -2l-0.8 -0.8l-6.8 -2.7l-3 -2.7l-0.2 1.4l-1.8 1.8l-8 4.8zM304.0 151.5l0.2 -0.3l0.3 0.3l-0.3 0.3zM304.5 151.2l4 -2.2l2.7 -2.2l0.8 0.7l9.8 4.5l3.2 2.2l3.5 1.6l2.5 1.7l6.2 3l2 0.5l4.8 0.5l1.2 0.5l2.6 0.2l0.7 0.6l1.3 0.2l8.7 0.2l0.3 0.3l15.7 0l0.3 -0.3l12.4 -0.2l2 0.5l1.8 0l3.2 1.3l3 2.7l-1.4 1.5l-1.3 2.8l-0.7 3l-2.6 4.4l-0.2 5l-1 3.6l-0.8 -1.8l-0.2 -1.5l-0.8 -1.3l0 -0.7l-0.7 -1l-0.5 -1.7l-2.2 -3.6l-1.6 -1.4l-1.4 -0.8l-12.8 0.2l-1.2 0.6l-11.3 0l-2 0.4l-3.3 0l-0.7 -0.2l-0.3 0.2l-3.7 0l-2 0.6l-0.7 0.7l-2 1l-1.8 1.7l-0.8 2l-0.2 3l-0.2 0.3l0.2 1.7l-0.2 0.3l-2 -4l-2.3 -3l-2.3 -4l-3.2 -3.3l-0.8 -4l-1.7 -3.4l0 -0.8l-1.5 -3l-3.8 -5l-2.4 -2.2l-3.8 -2.6l-2.8 -0.2l-0.2 -0.2l-2.8 0l-1.2 0.4l-2 0l-0.2 0.3zM293.5 152.8l0 3.2l1 1.5l5.7 0l4 -1l2.6 -0.3l1.2 -0.4l2 0l0.2 -0.3l2 0.3l4.3 3l2.7 3l2.6 4.2l1.4 3.2l1 4.8l0.8 2l3.2 3l1.8 2.5l0.5 1.3l2 2.7l5.5 11.3l0 1.2l0.8 2.8l-3.6 3.7l-0.2 0.5l0 2.5l4 0.3l0.2 0.2l4.8 0l2 -3.5l0.2 -1.3l0.6 -0.7l0 -2.5l-1.3 -4.8l0 -1l-1.5 -4.7l-0.2 -5.7l0.7 -1.6l2.7 -2l4 -0.2l0.3 -0.2l13.5 -0.3l0.2 -0.3l14.6 -0.4l2 2.2l0 0.5l0.7 0.7l0.5 1.8l0.8 1l0 0.8l0.7 1.2l0.5 2.5l0.8 1.7l0.4 6.6l0.3 0.2l0 3.5l-4 3.3l-0.3 3.4l9 0.3l0.6 -1.7l0 -2.6l0.4 -0.7l0 -1.3l0.6 -1l1.2 -7.2l0.8 -2.5l1 -9.3l2 -4l1.4 -4l1 5.3l0.3 8.3l1.5 1l2.5 0l0.5 -0.8l0 -1.2l1 -3.6l0 -3.4l-0.2 -0.3l-0.3 -6l-0.7 -1.7l-1 -4l-0.8 -0.8l-1.5 -2.8l-2.7 -2.7l-1.6 -1l-4 -1.5l-4.4 -0.5l-0.3 -0.3l-8.3 0l-0.2 0.3l-6.5 0l-0.3 0.3l-19 -0.3l-0.2 -0.3l-3 0l-1 -0.4l-2.5 -0.3l-3.5 -1l-4 -0.5l-1.5 -0.5l-5.3 -3l-5.2 -2.5l-2 -1.5l-3.2 -1.5l-0.6 -0.5l-7 -3l-2.2 -2l-2.8 -3.3l-2.2 0l-0.2 0.3l-0.8 4.7l-1.2 1.3l-1.3 0.5l-0.7 0.8l-1.8 0.7l-6.8 4.5zM295.2 154.2l2.3 -2l1.3 -0.4l4.7 -3.6l1.5 -0.4l2.5 -1.6l1.3 -1.4l0.2 -2.8l0.5 -1l1.7 1.8l0 0.4l2.6 2l3.7 1.6l0.5 0.4l6 2.8l2.5 2l5.3 2.2l0.2 0.6l3.2 1.4l0.6 0.6l2.7 1l4 0.4l3.5 1l2.5 0.3l1.7 0.7l2.3 0l0.3 0.3l5.7 -0.3l0.3 0.3l4.2 0l0.2 0.3l5.3 0l0.3 -0.3l6 0l0.2 -0.3l6 0.3l0.8 -0.5l5.2 0l0.2 0.2l1.6 0l0.7 0.6l3.3 0.4l3.7 1.6l3.3 3.2l0.2 0.8l2 2.4l1 4l0.8 1.8l0 1.8l-0.3 0.2l0.3 0.2l0 3.3l0.4 0.7l-1 4.8l-0.2 0.2l-0.8 -0.2l0 -2l-0.2 -0.2l0.2 -5.3l-0.4 -0.7l0 -1.8l-0.8 -4l-0.5 -1.5l-0.5 -0.5l-1.2 0l-0.6 0.5l-0.4 1.5l-0.6 0.5l-1.2 4.3l-2 3.7l-0.2 4.3l-0.8 2.2l0 1.8l-0.2 0.2l0.2 1l-0.8 2.5l-0.2 2.3l-0.8 1.7l-0.2 3.3l-0.5 1l0 1.2l-0.5 0.8l-0.2 3l-0.8 1l-4.5 -0.3l-0.3 -0.3l1 -1l0.8 -0.2l2.2 -2l-0.2 -10.8l-1.8 -7l-0.4 -0.7l0 -1l-1.6 -2.7l-0.7 -0.8l0 -0.5l-2.3 -2.5l-0.4 -0.2l-2.6 0l-0.2 0.2l-2.8 0l-0.2 0.2l-6.2 0l-0.3 0.3l-0.5 -0.3l-3.8 0l-1 0.6l-7 0l-0.2 0.2l-0.5 -0.2l-5 0l-0.7 0.4l-4 0.3l-3 2.3l-1 2.4l0 2.6l0.2 0.2l-0.2 0.2l0 2l1.2 5.8l0.8 1.8l0 1l0.7 2.2l0 2l0.3 0.2l-0.6 1l0 0.8l-1.4 2.8l-0.6 0.2l-4.2 -0.2l-0.2 -0.3l3 -3.5l-0.3 -4l-0.5 -2.5l-4.5 -8.5l-1.5 -3.8l-0.8 -0.7l-0.2 -0.7l-0.8 -0.6l-0.4 -1.2l-1.8 -2.5l-3.5 -3.5l-0.5 -1.5l-0.2 -2.7l-1.8 -4.3l-3 -5.3l-1.8 -1.7l-0.4 -1l-3.3 -2.5l-2.3 -1.2l-1 0.2l-0.2 -0.2l-5.5 0.2l-1.3 0.5l-2.4 0.3l-4 1l-2.6 -0.3z"/><path fill="#222222" fill-rule="evenodd" d="M335.2 167.2l0.3 1.3l1.7 1.7l0.8 1.3l3.2 -2.3l2 -0.4zM337.5 169.0l0.7 -0.2l0.8 0.4l-0.8 0.6zM330.8 162.2l0 0.8l1 2l0 0.8l0.7 1.7l0.5 2.5l1.8 1.8l2.7 3.7l3.7 -3l1.6 -0.7l3 -0.6l1.2 -0.4l2 0l0.2 0.2l0.3 -0.2l6 0l1.3 -0.6l5.2 0l1 0.3l0.2 -0.3l5 0l1.6 -0.4l8.2 0l0.2 -0.3l2.8 0l0.2 0.3l2.8 0.2l1.2 0.8l3.6 3.7l2.4 -6l-1.7 -0.7l-2.7 -0.3l-0.3 -0.3l-11 0.3l-0.3 0.3l-24 -0.3l-0.2 -0.3l-2 0l-1.2 -0.4l-1 0l-1 -0.6l-6 -0.7l-6.3 -1.7zM382.0 168.5l0.2 -0.3l4.6 0l0.2 0.3l1.2 0l1.6 0.7l-0.8 2.6l-0.8 0.4l-0.4 -0.7l-2.8 -2l-2.2 -0.5zM332.8 165.0l0.4 -0.2l1.8 0.7l7 1l1 0.5l7.8 1.5l2 0l0.2 0.3l5.5 -0.3l0.3 0.3l4.4 0l0.3 0.2l-0.5 0.5l-12.5 0l-1.3 0.5l-2.4 0l-1.6 0.5l-1.4 0l-2 0.5l-4 3l-1.3 -1.8l-2.7 -2.7l-0.6 -3.5zM320.8 153.5l4 4.3l4.2 7.7l1.5 6.3l2.5 2.4l2.5 3.3l2.3 4l0.2 -1.3l1.8 -2.7l2.2 -2l2.8 -1.3l2.4 -0.4l2.6 0l0.2 -0.3l13.2 -0.3l0.3 -0.2l11.5 -0.2l0.2 -0.3l2.6 0l0.2 -0.3l2.8 0l2.4 0.8l2.8 2.5l2 2.7l1.5 3.6l0.5 -3l1.8 -3.8l0 -0.8l1.2 -2l0.8 -2.7l1.2 -2l-0.2 -0.5l-2 -1l-1.6 -0.2l-1.2 -0.8l-2.5 -0.2l-0.3 -0.3l-12.4 0.3l-0.3 0.2l-15.3 0l-0.2 -0.2l-9.5 -0.3l-2.3 -0.7l-1.2 0l-4.8 -1.3l-1.2 0l-4.8 -1l-1.2 -0.5l-0.8 -0.8l-3.4 -2l-3.3 -1.2l-4 -2.8zM326.0 158.0l0.5 -0.2l3.3 2l2.7 1l2.7 1.7l3.3 0.7l2.7 0.3l4.3 1.3l1.3 0l1 0.4l5.2 0.3l0.2 0.3l4.8 0l0.2 0.2l16.8 0l0.2 -0.2l11.3 -0.3l0.3 0.3l3.4 0.2l3 1.2l0.3 0.6l-1.3 2.4l-1.2 4.6l-2 3.2l-2.2 -3.5l-3 -2.5l-2.8 -0.8l-3 0l-0.2 0.3l-2.6 0l-0.2 0.3l-6.2 0l-0.3 0.2l-4.7 0l-0.3 0.2l-7.3 0l-0.2 0.3l-9.5 0.3l-3.3 0.7l-3.2 2.3l-1.8 1.7l-0.7 1.3l-3.5 -5.3l-2.8 -2.5l-1.2 -5.8l-1.8 -3.7zM325.8 157.8l0.2 -0.3l0.2 0.3l-0.2 0.2zM310.5 149.2l2 0.3l-1.5 -0.7zM298.0 154.0l2.8 -0.2l2.4 -0.8l2.3 -0.2l1 -0.6l2 0l0.3 -0.2l2.2 0l0.2 0.2l2.8 0.3l3.5 2l5 5l1.7 3.5l0.8 0.8l1.5 3.2l0 1l1.5 5.2l3.2 3.3l2 2.7l1.6 3l1 1.3l3 6.5l2 3.2l1.7 7.6l-0.3 2l-1.4 1.4l0.4 0.6l0.6 -0.3l1.4 -3.5l-1 -3.8l0 -1l-1.2 -3.2l-0.5 -2.2l0.3 -1.3l-0.3 -0.3l0 -2.7l-0.5 -1.3l0 -2l0.5 -1.7l1.3 -2l2 -1.7l2.2 -1l4.2 -0.3l0.3 -0.3l6 0l0.3 -0.2l3 0.2l0.2 -0.2l9 -0.2l0.2 -0.3l1 0.3l4.3 0l1.3 -0.6l2.2 0l0.2 -0.2l3.3 0.2l3.5 3.6l0 0.4l1 1.3l0.2 1.5l1.6 3l1.4 5.2l0.3 3.8l0.3 0.2l0 1.3l-0.3 0.3l0.3 0.2l0 2l0.7 -5.5l1.3 -4.3l0.2 -6l0.5 -2l0.7 -1l0 -0.7l1.3 -2.3l2.3 -6.4l1.2 -1.3l1.2 -0.3l-1 -2l-2.2 -2l-2 -1l-4 -1.2l-13.5 -0.2l-2 0.4l-6 0l-0.3 -0.2l-9.4 0.2l-0.3 -0.2l-3 0l-0.3 -0.2l-2.7 0l-0.3 -0.3l-2 0l-0.2 0.3l-2.8 -0.8l-1.2 0l-4 -1.2l-4 -0.6l-2.5 -1l-1.3 -1l-2.4 -1l-2 -1.2l-1 -0.2l-5.3 -3.3l-3 -1.3l-0.7 -0.7l-6.8 -2.7l-2.5 -2.3l-0.3 0l-0.2 1.3l-1 1l-3.2 2.2l-5.8 3.2zM303.2 151.8l1.6 -1.3l4 -2l2.2 -2.3l1.5 1.3l7 3l0.5 0.5l2.8 1.2l2 1.6l5.2 2.4l0.8 0.8l3 1.2l2.4 1.6l2.3 0.7l8.5 1.3l3 1l3 0l0.2 0.2l21 0.2l0.3 -0.2l6.5 0l0.2 -0.2l2.3 0l0.3 -0.3l2.7 0l1.3 0.5l3.4 0.2l3.3 1.3l3.3 3l-1.8 1.7l-1.2 2.8l0 0.8l-1 2.7l-1.6 2.3l-0.7 1.7l-0.3 5l-0.4 1l-0.3 3.3l-0.3 0.2l-0.4 -0.5l-1 -3.7l-0.8 -1.3l0 -1l-0.8 -1l-0.7 -2l-0.7 -0.7l0 -0.6l-1 -1.4l-2 -2l-1.6 -0.6l-12 0.3l-1.2 0.5l-11.2 0l-1.3 0.5l-8.7 0l-2 0.5l-3.6 2.2l-1 1.3l-1 3.5l0 4l-0.2 0.2l-0.8 -0.7l-2 -4.3l-3.4 -5l-0.6 -1.2l-3.4 -3.5l-0.6 -3.3l-2 -5l-1.7 -3.4l-4.3 -5.6l-5.2 -3.7l-4.8 -0.5l-2 0.5l-2 0l-1.4 0.5l-1.3 0zM293.5 152.8l0 3.2l1 1.5l5.7 0l4 -1l2.6 -0.3l1.2 -0.4l2 0l0.2 -0.3l2 0.3l4.3 3l2.7 3l2.6 4.2l1.4 3.2l1 4.8l0.8 2l3.2 3l1.8 2.5l0.5 1.3l2 2.7l5.5 11.3l0 1.2l0.8 2.8l-3.6 3.7l-0.2 0.5l0 2.5l4 0.3l0.2 0.2l4.8 0l2 -3.5l0.2 -1.3l0.6 -0.7l0 -2.5l-1.3 -4.8l0 -1l-1.5 -4.7l-0.2 -5.7l0.7 -1.6l2.7 -2l4 -0.2l0.3 -0.2l13.5 -0.3l0.2 -0.3l14.6 -0.4l2 2.2l0 0.5l0.7 0.7l0.5 1.8l0.8 1l0 0.8l0.7 1.2l0.5 2.5l0.8 1.7l0.4 6.6l0.3 0.2l0 3.5l-4 3.3l-0.3 3.4l9 0.3l0.6 -1.7l0 -2.6l0.4 -0.7l0 -1.3l0.6 -1l1.2 -7.2l0.8 -2.5l1 -9.3l2 -4l1.4 -4l1 5.3l0.3 8.3l1.5 1l2.5 0l0.5 -0.8l0 -1.2l1 -3.6l0 -3.4l-0.2 -0.3l-0.3 -6l-0.7 -1.7l-1 -4l-0.8 -0.8l-1.5 -2.8l-2.7 -2.7l-1.6 -1l-4 -1.5l-4.4 -0.5l-0.3 -0.3l-8.3 0l-0.2 0.3l-6.5 0l-0.3 0.3l-19 -0.3l-0.2 -0.3l-3 0l-1 -0.4l-2.5 -0.3l-3.5 -1l-4 -0.5l-1.5 -0.5l-5.3 -3l-5.2 -2.5l-2 -1.5l-3.2 -1.5l-0.6 -0.5l-7 -3l-2.2 -2l-2.8 -3.3l-2.2 0l-0.2 0.3l-0.8 4.7l-1.2 1.3l-1.3 0.5l-0.7 0.8l-1.8 0.7l-6.8 4.5zM295.0 154.2l2 -2l4.5 -2.7l0.3 -0.5l5.4 -3l1.3 -1.5l0.5 -3.7l0.5 -0.3l2 2.5l2.3 2l5.4 2.2l5.3 2.8l2 1.5l5.3 2.5l4.2 2.5l2.8 1l2.4 0.3l2.6 0.7l5 0.7l0.7 0.6l2 0l1.7 0.4l5.6 -0.2l0.2 0.2l8.2 0.3l0.3 -0.3l7 0l0.3 -0.2l5.4 0.2l1.6 -0.4l5.4 0l5 1l3 1.2l0.8 0l4 3.8l1.5 2.7l0.7 0.7l1.8 5.6l0 2.7l0.2 0.3l-0.2 0.2l0 1.8l0.5 2.2l-1 3.5l0 1l-0.5 0.5l-1 -0.8l-0.2 -8.2l-0.3 -0.2l0 -1.8l-0.7 -4l-1 -1.8l-0.8 0l-0.5 0.6l-1 2l-1.3 4l-2 4l-0.2 4.2l-0.2 0.2l0 1.3l-0.6 0.7l0 2.8l-1 5l-0.4 0.8l-1 6.4l-0.6 0.8l-0.2 3.2l-0.5 0.8l-5.3 -0.2l-0.2 -0.8l4 -3l-0.2 -9.2l-0.3 -0.3l-0.3 -3.7l-0.7 -1.6l-1 -4.2l-0.7 -1l-0.6 -1.8l-1 -1l-0.7 -1.7l-1.7 -1.5l-2.6 0l-0.2 0.2l-2.8 0l-0.2 0.3l-6.2 0l-0.3 0.3l-12.3 0.2l-0.2 0.2l-4.2 -0.2l-2 0.5l-3.8 0.3l-3 2l-1 2.7l0.5 7.5l2 6.8l0.5 3.7l-1.8 4l-1 1l-2.2 -0.5l-2.5 0.2l-0.5 -0.4l2.2 -2.3l0.3 -0.7l1 -1l-0.7 -6l-2.6 -4.6l-1 -2.7l-0.4 -0.3l-0.6 -1l-0.2 -1.2l-2.2 -4l-2 -2.5l-1 -2l-3.6 -3.3l-0.7 -2.7l0 -1.5l-0.5 -0.8l-0.2 -1.4l-1.6 -3.3l-2.4 -4l-2.8 -3.3l-4.2 -3l-1.6 0l-0.2 -0.2l-5.5 0.2l-1.3 0.6l-6.2 1.2l-3 0z"/></g>
<text x="93" y="13" text-anchor="middle" class="hd">Curvature</text>
<text x="93" y="24.8" text-anchor="middle" class="hd">decreases diffusion</text>
<text x="212.3" y="19.2" text-anchor="middle" class="hd">No effect</text>
<text x="343.3" y="13" text-anchor="middle" class="hd">Curvature</text>
<text x="343.3" y="24.8" text-anchor="middle" class="hd">increases diffusion</text>
<text x="4" y="44.8" class="pl">a</text>
<text x="3.8" y="132.7" class="pl">b</text>
<line x1="51.50" y1="354.3" x2="51.50" y2="377" stroke="#f3ad80" stroke-width="1.4"/>
<line x1="58.55" y1="365.5" x2="58.55" y2="381.6" stroke="#f3ad80" stroke-width="1.4"/>
<line x1="65.59" y1="357.4" x2="65.59" y2="377" stroke="#f3ad80" stroke-width="1.4"/>
<line x1="72.64" y1="364" x2="72.64" y2="378.2" stroke="#f3ad80" stroke-width="1.4"/>
<line x1="79.68" y1="348.9" x2="79.68" y2="374.1" stroke="#f3ad80" stroke-width="1.4"/>
<line x1="86.72" y1="357" x2="86.72" y2="377.6" stroke="#f3ad80" stroke-width="1.4"/>
<line x1="93.77" y1="353.3" x2="93.77" y2="373.5" stroke="#f3ad80" stroke-width="1.4"/>
<line x1="100.81" y1="357" x2="100.81" y2="376.6" stroke="#f3ad80" stroke-width="1.4"/>
<line x1="107.86" y1="357.8" x2="107.86" y2="377.6" stroke="#f3ad80" stroke-width="1.4"/>
<line x1="114.91" y1="338.6" x2="114.91" y2="366.6" stroke="#f3ad80" stroke-width="1.4"/>
<line x1="121.95" y1="317" x2="121.95" y2="344" stroke="#f3ad80" stroke-width="1.4"/>
<line x1="129.00" y1="303.8" x2="129.00" y2="322.6" stroke="#f3ad80" stroke-width="1.4"/>
<line x1="136.04" y1="295.8" x2="136.04" y2="334.3" stroke="#f3ad80" stroke-width="1.4"/>
<line x1="143.09" y1="303.2" x2="143.09" y2="329.9" stroke="#f3ad80" stroke-width="1.4"/>
<line x1="150.13" y1="298.2" x2="150.13" y2="316.2" stroke="#f3ad80" stroke-width="1.4"/>
<line x1="157.18" y1="301.6" x2="157.18" y2="327.9" stroke="#f3ad80" stroke-width="1.4"/>
<line x1="164.22" y1="302.6" x2="164.22" y2="320.8" stroke="#f3ad80" stroke-width="1.4"/>
<line x1="171.26" y1="301.8" x2="171.26" y2="327.3" stroke="#f3ad80" stroke-width="1.4"/>
<line x1="178.31" y1="301.8" x2="178.31" y2="317.8" stroke="#f3ad80" stroke-width="1.4"/>
<line x1="185.36" y1="299.2" x2="185.36" y2="313.7" stroke="#f3ad80" stroke-width="1.4"/>
<line x1="192.40" y1="300.8" x2="192.40" y2="319.6" stroke="#f3ad80" stroke-width="1.4"/>
<line x1="51.50" y1="286" x2="51.50" y2="308.7" stroke="#7d6252" stroke-width="1.4"/>
<line x1="58.55" y1="281.2" x2="58.55" y2="297.1" stroke="#7d6252" stroke-width="1.4"/>
<line x1="65.59" y1="286.2" x2="65.59" y2="305.2" stroke="#7d6252" stroke-width="1.4"/>
<line x1="72.64" y1="285" x2="72.64" y2="298.5" stroke="#7d6252" stroke-width="1.4"/>
<line x1="79.68" y1="288.8" x2="79.68" y2="313.5" stroke="#7d6252" stroke-width="1.4"/>
<line x1="86.72" y1="285" x2="86.72" y2="305.8" stroke="#7d6252" stroke-width="1.4"/>
<line x1="93.77" y1="289" x2="93.77" y2="309.6" stroke="#7d6252" stroke-width="1.4"/>
<line x1="100.81" y1="286.2" x2="100.81" y2="305.8" stroke="#7d6252" stroke-width="1.4"/>
<line x1="107.86" y1="285" x2="107.86" y2="304.8" stroke="#7d6252" stroke-width="1.4"/>
<line x1="114.91" y1="296.2" x2="114.91" y2="324" stroke="#7d6252" stroke-width="1.4"/>
<line x1="121.95" y1="317.8" x2="121.95" y2="345.4" stroke="#7d6252" stroke-width="1.4"/>
<line x1="129.00" y1="340" x2="129.00" y2="358.6" stroke="#7d6252" stroke-width="1.4"/>
<line x1="136.04" y1="330.7" x2="136.04" y2="366.7" stroke="#7d6252" stroke-width="1.4"/>
<line x1="143.09" y1="333.3" x2="143.09" y2="359" stroke="#7d6252" stroke-width="1.4"/>
<line x1="150.13" y1="346.1" x2="150.13" y2="364.3" stroke="#7d6252" stroke-width="1.4"/>
<line x1="157.18" y1="334.7" x2="157.18" y2="360.7" stroke="#7d6252" stroke-width="1.4"/>
<line x1="164.22" y1="341.4" x2="164.22" y2="359.8" stroke="#7d6252" stroke-width="1.4"/>
<line x1="171.26" y1="335.4" x2="171.26" y2="360.3" stroke="#7d6252" stroke-width="1.4"/>
<line x1="178.31" y1="344.8" x2="178.31" y2="360.5" stroke="#7d6252" stroke-width="1.4"/>
<line x1="185.36" y1="348.9" x2="185.36" y2="363.2" stroke="#7d6252" stroke-width="1.4"/>
<line x1="192.40" y1="343" x2="192.40" y2="361" stroke="#7d6252" stroke-width="1.4"/>
<circle cx="51.50" cy="365.9" r="2.6" fill="#f09a5e"/>
<circle cx="58.55" cy="373.9" r="2.6" fill="#f09a5e"/>
<circle cx="65.59" cy="367.1" r="2.6" fill="#f09a5e"/>
<circle cx="72.64" cy="371.1" r="2.6" fill="#f09a5e"/>
<circle cx="79.68" cy="361.4" r="2.6" fill="#f09a5e"/>
<circle cx="86.72" cy="367.5" r="2.6" fill="#f09a5e"/>
<circle cx="93.77" cy="363.4" r="2.6" fill="#f09a5e"/>
<circle cx="100.81" cy="366.9" r="2.6" fill="#f09a5e"/>
<circle cx="107.86" cy="367.9" r="2.6" fill="#f09a5e"/>
<circle cx="114.91" cy="352.6" r="2.6" fill="#f09a5e"/>
<circle cx="121.95" cy="329.3" r="2.6" fill="#f09a5e"/>
<circle cx="129.00" cy="313.5" r="2.6" fill="#f09a5e"/>
<circle cx="136.04" cy="313.7" r="2.6" fill="#f09a5e"/>
<circle cx="143.09" cy="316.6" r="2.6" fill="#f09a5e"/>
<circle cx="150.13" cy="307.7" r="2.6" fill="#f09a5e"/>
<circle cx="157.18" cy="314.7" r="2.6" fill="#f09a5e"/>
<circle cx="164.22" cy="311.7" r="2.6" fill="#f09a5e"/>
<circle cx="171.26" cy="314.7" r="2.6" fill="#f09a5e"/>
<circle cx="178.31" cy="309.7" r="2.6" fill="#f09a5e"/>
<circle cx="185.36" cy="306.7" r="2.6" fill="#f09a5e"/>
<circle cx="192.40" cy="310.1" r="2.6" fill="#f09a5e"/>
<circle cx="51.50" cy="296.7" r="2.6" fill="#573623"/>
<circle cx="58.55" cy="288.8" r="2.6" fill="#573623"/>
<circle cx="65.59" cy="295.6" r="2.6" fill="#573623"/>
<circle cx="72.64" cy="291.7" r="2.6" fill="#573623"/>
<circle cx="79.68" cy="301" r="2.6" fill="#573623"/>
<circle cx="86.72" cy="295" r="2.6" fill="#573623"/>
<circle cx="93.77" cy="299" r="2.6" fill="#573623"/>
<circle cx="100.81" cy="295.6" r="2.6" fill="#573623"/>
<circle cx="107.86" cy="294.8" r="2.6" fill="#573623"/>
<circle cx="114.91" cy="310" r="2.6" fill="#573623"/>
<circle cx="121.95" cy="331.8" r="2.6" fill="#573623"/>
<circle cx="129.00" cy="349.2" r="2.6" fill="#573623"/>
<circle cx="136.04" cy="348.4" r="2.6" fill="#573623"/>
<circle cx="143.09" cy="346" r="2.6" fill="#573623"/>
<circle cx="150.13" cy="355" r="2.6" fill="#573623"/>
<circle cx="157.18" cy="347.7" r="2.6" fill="#573623"/>
<circle cx="164.22" cy="350.7" r="2.6" fill="#573623"/>
<circle cx="171.26" cy="347.9" r="2.6" fill="#573623"/>
<circle cx="178.31" cy="352.7" r="2.6" fill="#573623"/>
<circle cx="185.36" cy="355.9" r="2.6" fill="#573623"/>
<circle cx="192.40" cy="352.1" r="2.6" fill="#573623"/>
<rect x="44.5" y="256.0" width="155.0" height="151.0" fill="none" stroke="#555" stroke-width="1"/>
<line x1="41.0" y1="407.00" x2="44.5" y2="407.00" stroke="#555" stroke-width="1"/>
<text x="39.1" y="411.80" text-anchor="end" class="tk" textLength="17.4" lengthAdjust="spacingAndGlyphs">0.0</text>
<line x1="41.0" y1="376.80" x2="44.5" y2="376.80" stroke="#555" stroke-width="1"/>
<text x="39.1" y="381.60" text-anchor="end" class="tk" textLength="17.4" lengthAdjust="spacingAndGlyphs">0.2</text>
<line x1="41.0" y1="346.60" x2="44.5" y2="346.60" stroke="#555" stroke-width="1"/>
<text x="39.1" y="351.40" text-anchor="end" class="tk" textLength="17.4" lengthAdjust="spacingAndGlyphs">0.4</text>
<line x1="41.0" y1="316.40" x2="44.5" y2="316.40" stroke="#555" stroke-width="1"/>
<text x="39.1" y="321.20" text-anchor="end" class="tk" textLength="17.4" lengthAdjust="spacingAndGlyphs">0.6</text>
<line x1="41.0" y1="286.20" x2="44.5" y2="286.20" stroke="#555" stroke-width="1"/>
<text x="39.1" y="291.00" text-anchor="end" class="tk" textLength="17.4" lengthAdjust="spacingAndGlyphs">0.8</text>
<line x1="41.0" y1="256.00" x2="44.5" y2="256.00" stroke="#555" stroke-width="1"/>
<text x="39.1" y="260.80" text-anchor="end" class="tk" textLength="17.4" lengthAdjust="spacingAndGlyphs">1.0</text>
<line x1="51.50" y1="407.0" x2="51.50" y2="410.5" stroke="#555" stroke-width="1"/>
<text x="51.50" y="421.0" text-anchor="middle" class="tk" textLength="23.0" lengthAdjust="spacingAndGlyphs">−10</text>
<line x1="121.95" y1="407.0" x2="121.95" y2="410.5" stroke="#555" stroke-width="1"/>
<text x="121.95" y="421.0" text-anchor="middle" class="tk" textLength="7.2" lengthAdjust="spacingAndGlyphs">0</text>
<line x1="192.40" y1="407.0" x2="192.40" y2="410.5" stroke="#555" stroke-width="1"/>
<text x="192.40" y="421.0" text-anchor="middle" class="tk" textLength="14.2" lengthAdjust="spacingAndGlyphs">10</text>
<rect x="73" y="261.5" width="121" height="19.5" rx="2" fill="#fff" fill-opacity="0.8" stroke="#d8d8d8" stroke-width="1"/>
<line x1="88.1" y1="265.4" x2="88.1" y2="276" stroke="#f3ad80" stroke-width="1.4"/>
<circle cx="88.1" cy="270.5" r="2.6" fill="#f09a5e"/>
<line x1="155.3" y1="265.4" x2="155.3" y2="276" stroke="#7d6252" stroke-width="1.4"/>
<circle cx="155.3" cy="270.5" r="2.6" fill="#573623"/>
<text x="108" y="274.5" class="lg"><tspan font-style="italic">G</tspan><tspan font-size="8.5" dy="2">1</tspan></text>
<text x="175.5" y="274.5" class="lg"><tspan font-style="italic">G</tspan><tspan font-size="8.5" dy="2">2</tspan></text>
<text x="115.5" y="247" text-anchor="middle" class="ti">Cat</text>
<text transform="translate(17,331) rotate(-90)" text-anchor="middle" class="lb">Gradient Fraction</text>
<text x="122" y="433.5" text-anchor="middle" class="lb">Diffusion-Curvature Coupling</text>
<text x="4" y="261" class="pl">c</text>
<line x1="261.50" y1="347.9" x2="261.50" y2="369.5" stroke="#f3ad80" stroke-width="1.4"/>
<line x1="268.54" y1="353.9" x2="268.54" y2="374.1" stroke="#f3ad80" stroke-width="1.4"/>
<line x1="275.59" y1="348.7" x2="275.59" y2="370.5" stroke="#f3ad80" stroke-width="1.4"/>
<line x1="282.63" y1="348.7" x2="282.63" y2="370.9" stroke="#f3ad80" stroke-width="1.4"/>
<line x1="289.68" y1="341.2" x2="289.68" y2="366.1" stroke="#f3ad80" stroke-width="1.4"/>
<line x1="296.72" y1="344.2" x2="296.72" y2="371.5" stroke="#f3ad80" stroke-width="1.4"/>
<line x1="303.77" y1="347.9" x2="303.77" y2="366.9" stroke="#f3ad80" stroke-width="1.4"/>
<line x1="310.81" y1="337.2" x2="310.81" y2="365.5" stroke="#f3ad80" stroke-width="1.4"/>
<line x1="317.86" y1="339.8" x2="317.86" y2="370.5" stroke="#f3ad80" stroke-width="1.4"/>
<line x1="324.90" y1="342.6" x2="324.90" y2="364" stroke="#f3ad80" stroke-width="1.4"/>
<line x1="331.95" y1="329" x2="331.95" y2="351.7" stroke="#f3ad80" stroke-width="1.4"/>
<line x1="339.00" y1="303.1" x2="339.00" y2="327.4" stroke="#f3ad80" stroke-width="1.4"/>
<line x1="346.04" y1="309.2" x2="346.04" y2="319.3" stroke="#f3ad80" stroke-width="1.4"/>
<line x1="353.08" y1="300.1" x2="353.08" y2="319.3" stroke="#f3ad80" stroke-width="1.4"/>
<line x1="360.13" y1="307.2" x2="360.13" y2="326" stroke="#f3ad80" stroke-width="1.4"/>
<line x1="367.18" y1="303.1" x2="367.18" y2="320.7" stroke="#f3ad80" stroke-width="1.4"/>
<line x1="374.22" y1="307.2" x2="374.22" y2="326" stroke="#f3ad80" stroke-width="1.4"/>
<line x1="381.26" y1="304.1" x2="381.26" y2="318.7" stroke="#f3ad80" stroke-width="1.4"/>
<line x1="388.31" y1="298.5" x2="388.31" y2="320.3" stroke="#f3ad80" stroke-width="1.4"/>
<line x1="395.36" y1="305.2" x2="395.36" y2="327.4" stroke="#f3ad80" stroke-width="1.4"/>
<line x1="402.40" y1="307.2" x2="402.40" y2="329.4" stroke="#f3ad80" stroke-width="1.4"/>
<line x1="261.50" y1="293.1" x2="261.50" y2="314.7" stroke="#7d6252" stroke-width="1.4"/>
<line x1="268.54" y1="288.7" x2="268.54" y2="308.7" stroke="#7d6252" stroke-width="1.4"/>
<line x1="275.59" y1="292.1" x2="275.59" y2="313.9" stroke="#7d6252" stroke-width="1.4"/>
<line x1="282.63" y1="291.5" x2="282.63" y2="313.7" stroke="#7d6252" stroke-width="1.4"/>
<line x1="289.68" y1="297.2" x2="289.68" y2="320.8" stroke="#7d6252" stroke-width="1.4"/>
<line x1="296.72" y1="291.5" x2="296.72" y2="318" stroke="#7d6252" stroke-width="1.4"/>
<line x1="303.77" y1="295.8" x2="303.77" y2="314.7" stroke="#7d6252" stroke-width="1.4"/>
<line x1="310.81" y1="297.6" x2="310.81" y2="325.5" stroke="#7d6252" stroke-width="1.4"/>
<line x1="317.86" y1="292.1" x2="317.86" y2="322.4" stroke="#7d6252" stroke-width="1.4"/>
<line x1="324.90" y1="298.6" x2="324.90" y2="320" stroke="#7d6252" stroke-width="1.4"/>
<line x1="331.95" y1="311" x2="331.95" y2="338.5" stroke="#7d6252" stroke-width="1.4"/>
<line x1="339.00" y1="334.8" x2="339.00" y2="359.7" stroke="#7d6252" stroke-width="1.4"/>
<line x1="346.04" y1="343.5" x2="346.04" y2="353.6" stroke="#7d6252" stroke-width="1.4"/>
<line x1="353.08" y1="342.9" x2="353.08" y2="362.3" stroke="#7d6252" stroke-width="1.4"/>
<line x1="360.13" y1="336.9" x2="360.13" y2="355.7" stroke="#7d6252" stroke-width="1.4"/>
<line x1="367.18" y1="341.9" x2="367.18" y2="359.7" stroke="#7d6252" stroke-width="1.4"/>
<line x1="374.22" y1="336.9" x2="374.22" y2="355.7" stroke="#7d6252" stroke-width="1.4"/>
<line x1="381.26" y1="344.1" x2="381.26" y2="358.7" stroke="#7d6252" stroke-width="1.4"/>
<line x1="388.31" y1="342.1" x2="388.31" y2="364.3" stroke="#7d6252" stroke-width="1.4"/>
<line x1="395.36" y1="334.8" x2="395.36" y2="357.7" stroke="#7d6252" stroke-width="1.4"/>
<line x1="402.40" y1="332.8" x2="402.40" y2="355.7" stroke="#7d6252" stroke-width="1.4"/>
<circle cx="261.50" cy="358.8" r="2.6" fill="#f09a5e"/>
<circle cx="268.54" cy="364" r="2.6" fill="#f09a5e"/>
<circle cx="275.59" cy="359.4" r="2.6" fill="#f09a5e"/>
<circle cx="282.63" cy="360" r="2.6" fill="#f09a5e"/>
<circle cx="289.68" cy="353.7" r="2.6" fill="#f09a5e"/>
<circle cx="296.72" cy="357.8" r="2.6" fill="#f09a5e"/>
<circle cx="303.77" cy="357.4" r="2.6" fill="#f09a5e"/>
<circle cx="310.81" cy="350.9" r="2.6" fill="#f09a5e"/>
<circle cx="317.86" cy="355.4" r="2.6" fill="#f09a5e"/>
<circle cx="324.90" cy="353.3" r="2.6" fill="#f09a5e"/>
<circle cx="331.95" cy="338" r="2.6" fill="#f09a5e"/>
<circle cx="339.00" cy="315.3" r="2.6" fill="#f09a5e"/>
<circle cx="346.04" cy="314.2" r="2.6" fill="#f09a5e"/>
<circle cx="353.08" cy="309.8" r="2.6" fill="#f09a5e"/>
<circle cx="360.13" cy="316.3" r="2.6" fill="#f09a5e"/>
<circle cx="367.18" cy="311.8" r="2.6" fill="#f09a5e"/>
<circle cx="374.22" cy="316.3" r="2.6" fill="#f09a5e"/>
<circle cx="381.26" cy="311.2" r="2.6" fill="#f09a5e"/>
<circle cx="388.31" cy="309.6" r="2.6" fill="#f09a5e"/>
<circle cx="395.36" cy="315.9" r="2.6" fill="#f09a5e"/>
<circle cx="402.40" cy="318.3" r="2.6" fill="#f09a5e"/>
<circle cx="261.50" cy="303.8" r="2.6" fill="#573623"/>
<circle cx="268.54" cy="298.6" r="2.6" fill="#573623"/>
<circle cx="275.59" cy="302.8" r="2.6" fill="#573623"/>
<circle cx="282.63" cy="302.6" r="2.6" fill="#573623"/>
<circle cx="289.68" cy="308.9" r="2.6" fill="#573623"/>
<circle cx="296.72" cy="304.6" r="2.6" fill="#573623"/>
<circle cx="303.77" cy="305.3" r="2.6" fill="#573623"/>
<circle cx="310.81" cy="311.7" r="2.6" fill="#573623"/>
<circle cx="317.86" cy="307.3" r="2.6" fill="#573623"/>
<circle cx="324.90" cy="309.3" r="2.6" fill="#573623"/>
<circle cx="331.95" cy="324.5" r="2.6" fill="#573623"/>
<circle cx="339.00" cy="347.6" r="2.6" fill="#573623"/>
<circle cx="346.04" cy="348.6" r="2.6" fill="#573623"/>
<circle cx="353.08" cy="353" r="2.6" fill="#573623"/>
<circle cx="360.13" cy="346.6" r="2.6" fill="#573623"/>
<circle cx="367.18" cy="350.6" r="2.6" fill="#573623"/>
<circle cx="374.22" cy="346.2" r="2.6" fill="#573623"/>
<circle cx="381.26" cy="351.2" r="2.6" fill="#573623"/>
<circle cx="388.31" cy="353.2" r="2.6" fill="#573623"/>
<circle cx="395.36" cy="346.6" r="2.6" fill="#573623"/>
<circle cx="402.40" cy="344.1" r="2.6" fill="#573623"/>
<rect x="254.5" y="256.0" width="155.0" height="151.0" fill="none" stroke="#555" stroke-width="1"/>
<line x1="251.0" y1="407.00" x2="254.5" y2="407.00" stroke="#555" stroke-width="1"/>
<text x="249.1" y="411.80" text-anchor="end" class="tk" textLength="17.4" lengthAdjust="spacingAndGlyphs">0.0</text>
<line x1="251.0" y1="376.80" x2="254.5" y2="376.80" stroke="#555" stroke-width="1"/>
<text x="249.1" y="381.60" text-anchor="end" class="tk" textLength="17.4" lengthAdjust="spacingAndGlyphs">0.2</text>
<line x1="251.0" y1="346.60" x2="254.5" y2="346.60" stroke="#555" stroke-width="1"/>
<text x="249.1" y="351.40" text-anchor="end" class="tk" textLength="17.4" lengthAdjust="spacingAndGlyphs">0.4</text>
<line x1="251.0" y1="316.40" x2="254.5" y2="316.40" stroke="#555" stroke-width="1"/>
<text x="249.1" y="321.20" text-anchor="end" class="tk" textLength="17.4" lengthAdjust="spacingAndGlyphs">0.6</text>
<line x1="251.0" y1="286.20" x2="254.5" y2="286.20" stroke="#555" stroke-width="1"/>
<text x="249.1" y="291.00" text-anchor="end" class="tk" textLength="17.4" lengthAdjust="spacingAndGlyphs">0.8</text>
<line x1="251.0" y1="256.00" x2="254.5" y2="256.00" stroke="#555" stroke-width="1"/>
<text x="249.1" y="260.80" text-anchor="end" class="tk" textLength="17.4" lengthAdjust="spacingAndGlyphs">1.0</text>
<line x1="261.50" y1="407.0" x2="261.50" y2="410.5" stroke="#555" stroke-width="1"/>
<text x="261.50" y="421.0" text-anchor="middle" class="tk" textLength="23.0" lengthAdjust="spacingAndGlyphs">−10</text>
<line x1="331.95" y1="407.0" x2="331.95" y2="410.5" stroke="#555" stroke-width="1"/>
<text x="331.95" y="421.0" text-anchor="middle" class="tk" textLength="7.2" lengthAdjust="spacingAndGlyphs">0</text>
<line x1="402.40" y1="407.0" x2="402.40" y2="410.5" stroke="#555" stroke-width="1"/>
<text x="402.40" y="421.0" text-anchor="middle" class="tk" textLength="14.2" lengthAdjust="spacingAndGlyphs">10</text>
<rect x="283" y="261.5" width="121" height="19.5" rx="2" fill="#fff" fill-opacity="0.8" stroke="#d8d8d8" stroke-width="1"/>
<line x1="298.1" y1="265.4" x2="298.1" y2="276" stroke="#f3ad80" stroke-width="1.4"/>
<circle cx="298.1" cy="270.5" r="2.6" fill="#f09a5e"/>
<line x1="365.3" y1="265.4" x2="365.3" y2="276" stroke="#7d6252" stroke-width="1.4"/>
<circle cx="365.3" cy="270.5" r="2.6" fill="#573623"/>
<text x="318" y="274.5" class="lg"><tspan font-style="italic">G</tspan><tspan font-size="8.5" dy="2">1</tspan></text>
<text x="385.5" y="274.5" class="lg"><tspan font-style="italic">G</tspan><tspan font-size="8.5" dy="2">2</tspan></text>
<text x="332.5" y="247" text-anchor="middle" class="ti">Zebra</text>
<text transform="translate(227,331) rotate(-90)" text-anchor="middle" class="lb">Gradient Fraction</text>
<text x="332" y="433.5" text-anchor="middle" class="lb">Diffusion-Curvature Coupling</text>
<text x="214" y="261" class="pl">d</text>
</svg>
</body></html>
